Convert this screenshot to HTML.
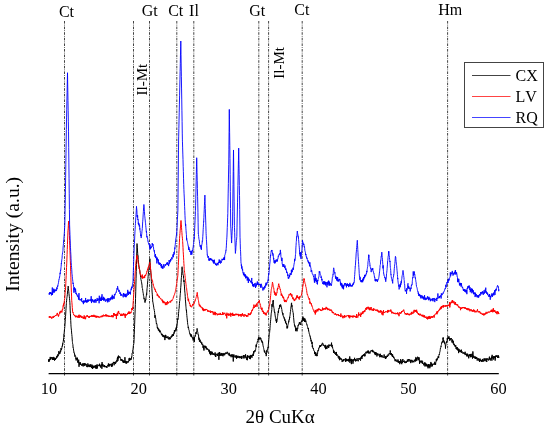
<!DOCTYPE html>
<html><head><meta charset="utf-8"><style>
html,body{margin:0;padding:0;background:#fff;}
svg{display:block;}
text{font-family:"Liberation Serif","Times New Roman",serif;fill:#000;}
.d{stroke:#444;stroke-width:1;stroke-dasharray:2.6 1.1 0.8 1.1;}
</style></head><body>
<svg width="550" height="426" viewBox="0 0 550 426">
<rect width="550" height="426" fill="#fff"/>
<line x1="64.5" y1="21" x2="64.5" y2="375.5" class="d"/>
<line x1="133.5" y1="21" x2="133.5" y2="375.5" class="d"/>
<line x1="149.5" y1="21" x2="149.5" y2="375.5" class="d"/>
<line x1="176.8" y1="21" x2="176.8" y2="375.5" class="d"/>
<line x1="193.8" y1="21" x2="193.8" y2="375.5" class="d"/>
<line x1="258.8" y1="21" x2="258.8" y2="375.5" class="d"/>
<line x1="268.6" y1="21" x2="268.6" y2="375.5" class="d"/>
<line x1="302.2" y1="21" x2="302.2" y2="375.5" class="d"/>
<line x1="447.6" y1="21" x2="447.6" y2="375.5" class="d"/>
<polyline points="48.60,360.06 48.78,361.83 48.96,359.00 49.14,361.51 49.32,359.33 49.50,359.41 49.68,360.19 49.86,359.16 50.04,359.29 50.22,356.92 50.40,359.49 50.58,358.94 50.76,358.45 50.94,359.33 51.00,358.77 51.12,358.40 51.30,357.43 51.48,358.10 51.66,357.48 51.84,357.58 52.02,358.43 52.20,357.36 52.38,357.63 52.56,359.96 52.74,359.34 52.92,357.76 53.00,357.47 53.10,357.09 53.28,356.96 53.46,359.99 53.64,358.26 53.82,357.40 54.00,358.85 54.18,359.44 54.36,359.28 54.54,360.63 54.72,357.68 54.90,359.76 55.00,359.57 55.08,358.19 55.26,359.63 55.44,359.88 55.62,358.91 55.80,358.01 55.98,358.94 56.16,357.94 56.34,357.65 56.52,357.89 56.70,356.27 56.88,357.61 57.00,357.03 57.06,357.22 57.24,355.70 57.42,356.76 57.60,355.23 57.78,354.38 57.96,356.27 58.14,356.01 58.32,355.87 58.50,354.56 58.68,353.93 58.86,351.11 59.00,354.02 59.04,354.16 59.22,354.17 59.40,352.69 59.58,352.19 59.76,352.62 59.94,352.66 60.12,353.47 60.30,350.51 60.48,351.02 60.66,351.72 60.84,350.23 61.00,350.06 61.02,348.12 61.20,349.78 61.38,350.11 61.56,349.06 61.74,348.76 61.92,347.53 62.10,346.27 62.28,346.64 62.46,345.03 62.50,345.69 62.64,343.55 62.82,344.38 63.00,342.25 63.18,341.75 63.36,340.72 63.40,341.01 63.54,338.98 63.72,337.48 63.90,333.89 64.08,333.75 64.26,332.17 64.44,329.74 64.62,328.78 64.80,326.73 64.90,326.03 64.98,324.82 65.16,321.90 65.34,319.68 65.52,316.57 65.70,314.06 65.88,310.83 66.06,308.24 66.24,305.13 66.40,303.63 66.42,302.48 66.60,300.81 66.78,298.57 66.96,297.42 67.14,296.38 67.32,294.60 67.50,292.05 67.68,290.81 67.86,289.19 68.04,287.73 68.20,286.07 68.22,286.33 68.40,288.52 68.58,290.08 68.76,291.50 68.94,293.35 69.12,295.04 69.30,296.30 69.48,298.36 69.66,300.32 69.84,302.12 69.90,302.92 70.02,305.49 70.20,310.02 70.38,313.19 70.56,316.95 70.74,320.68 70.92,324.27 71.00,326.14 71.10,327.13 71.28,328.95 71.46,330.19 71.64,332.98 71.82,334.63 72.00,336.43 72.18,338.99 72.36,341.36 72.50,342.59 72.54,343.20 72.72,344.07 72.90,344.70 73.08,347.89 73.26,347.67 73.44,348.70 73.62,350.77 73.80,350.70 73.98,352.96 74.00,352.76 74.16,352.85 74.34,352.90 74.52,354.60 74.70,354.10 74.88,356.63 75.06,355.35 75.24,355.88 75.42,356.04 75.60,356.18 75.78,356.80 75.96,358.82 76.00,357.70 76.14,360.46 76.32,358.69 76.50,358.27 76.68,359.08 76.86,358.95 77.04,359.22 77.22,359.72 77.40,357.67 77.58,360.34 77.76,362.62 77.94,360.47 78.00,361.11 78.12,361.01 78.30,360.79 78.48,362.81 78.66,359.67 78.84,361.88 79.02,366.78 79.20,362.37 79.38,363.98 79.56,363.62 79.74,364.45 79.92,364.38 80.00,364.40 80.10,365.00 80.28,362.16 80.46,364.44 80.64,364.37 80.82,364.64 81.00,363.74 81.18,364.26 81.36,365.02 81.54,364.75 81.72,365.68 81.90,365.16 82.00,364.94 82.08,365.42 82.26,365.06 82.44,364.37 82.62,365.32 82.80,364.07 82.98,363.13 83.16,366.43 83.34,364.42 83.52,364.87 83.70,364.20 83.88,364.22 84.00,363.38 84.06,363.22 84.24,364.37 84.42,364.29 84.60,363.44 84.78,366.05 84.96,363.58 85.14,364.51 85.32,363.70 85.50,365.14 85.68,364.43 85.86,363.92 86.00,364.79 86.04,364.14 86.22,364.23 86.40,365.05 86.58,364.97 86.76,366.96 86.94,366.99 87.12,365.94 87.30,365.71 87.48,366.36 87.66,367.16 87.84,363.40 88.02,364.80 88.20,365.73 88.38,364.79 88.56,366.36 88.74,365.87 88.92,365.96 89.00,366.39 89.10,365.27 89.28,367.03 89.46,366.83 89.64,366.81 89.82,364.56 90.00,366.59 90.18,367.10 90.36,365.87 90.54,366.58 90.72,364.31 90.90,365.42 91.08,366.22 91.26,366.75 91.44,366.88 91.62,368.09 91.80,366.67 91.98,364.63 92.00,367.27 92.16,365.46 92.34,365.73 92.52,369.02 92.70,367.54 92.88,366.65 93.06,365.93 93.24,366.73 93.42,366.70 93.60,368.10 93.78,366.89 93.96,365.60 94.00,367.12 94.14,367.37 94.32,366.09 94.50,366.06 94.68,367.20 94.86,365.99 95.04,367.56 95.22,367.56 95.40,365.26 95.58,368.09 95.76,367.99 95.94,368.65 96.00,366.48 96.12,367.55 96.30,366.29 96.48,364.71 96.66,365.37 96.84,368.81 97.02,366.90 97.20,368.25 97.38,366.07 97.56,366.73 97.74,364.50 97.92,365.09 98.10,365.38 98.28,365.73 98.46,365.63 98.64,365.41 98.82,365.24 99.00,365.41 99.00,366.07 99.18,365.26 99.36,366.22 99.54,363.73 99.72,365.22 99.90,365.62 100.08,365.85 100.26,365.18 100.44,365.64 100.62,367.55 100.80,366.22 100.98,366.15 101.16,364.49 101.34,364.36 101.52,365.48 101.70,365.16 101.88,368.78 102.06,362.09 102.24,365.83 102.42,364.40 102.60,366.31 102.78,364.21 102.96,364.45 103.14,364.56 103.32,365.46 103.50,366.02 103.68,366.62 103.86,365.41 104.04,365.49 104.22,366.87 104.40,366.66 104.58,365.14 104.76,367.04 104.94,367.29 105.00,366.29 105.12,366.86 105.30,365.96 105.48,366.14 105.66,366.71 105.84,366.75 106.02,366.77 106.20,366.82 106.38,366.11 106.56,367.32 106.74,366.23 106.92,367.89 107.10,366.49 107.28,366.01 107.46,365.44 107.64,366.09 107.82,365.77 108.00,366.04 108.18,365.77 108.36,363.67 108.54,366.25 108.72,363.60 108.90,366.03 109.00,364.93 109.08,366.59 109.26,365.39 109.44,364.21 109.62,364.99 109.80,365.01 109.98,365.28 110.16,364.79 110.34,365.27 110.52,364.25 110.70,364.60 110.88,364.88 111.06,364.66 111.24,363.64 111.42,366.79 111.60,365.06 111.78,365.42 111.96,364.21 112.00,364.98 112.14,364.98 112.32,366.46 112.50,363.25 112.68,363.69 112.86,363.36 113.04,363.54 113.22,362.72 113.40,361.90 113.58,362.94 113.76,363.02 113.94,362.46 114.12,365.27 114.30,362.32 114.48,362.00 114.66,363.05 114.84,362.20 115.02,361.81 115.20,361.82 115.38,363.84 115.56,364.06 115.74,362.42 115.92,361.71 116.10,362.54 116.10,361.87 116.28,361.50 116.46,361.40 116.64,360.69 116.82,360.19 117.00,361.88 117.18,358.75 117.36,359.12 117.54,356.79 117.70,357.62 117.72,357.22 117.90,360.86 118.08,358.08 118.26,358.51 118.44,355.59 118.62,357.60 118.80,357.13 118.98,356.99 119.16,357.48 119.34,356.70 119.52,357.06 119.70,356.54 119.70,357.15 119.88,357.51 120.06,357.10 120.24,357.88 120.42,358.55 120.60,359.00 120.78,360.04 120.96,360.02 121.00,360.00 121.14,360.97 121.32,359.40 121.50,358.96 121.68,360.11 121.86,359.48 122.04,360.63 122.22,360.76 122.40,359.81 122.58,361.41 122.76,361.20 122.94,361.04 123.12,362.67 123.30,362.30 123.30,360.92 123.48,360.56 123.66,362.75 123.84,360.55 124.02,361.95 124.20,361.04 124.38,361.14 124.56,361.45 124.74,362.85 124.92,357.20 125.10,360.46 125.28,361.77 125.46,361.16 125.64,360.92 125.82,363.34 126.00,360.93 126.18,361.91 126.36,363.61 126.54,362.20 126.72,362.03 126.90,362.12 127.00,362.12 127.08,361.20 127.26,361.91 127.44,362.40 127.62,362.81 127.80,362.89 127.98,362.89 128.00,361.52 128.16,361.30 128.34,361.23 128.52,362.16 128.70,360.77 128.88,360.28 129.06,358.31 129.24,360.10 129.42,360.88 129.60,357.89 129.78,359.15 129.96,359.46 130.14,359.63 130.32,359.14 130.50,360.15 130.68,358.34 130.86,358.82 131.04,359.07 131.22,359.62 131.40,358.94 131.58,356.77 131.60,357.60 131.76,356.90 131.94,355.53 132.12,352.98 132.30,352.90 132.48,352.75 132.50,351.81 132.66,351.05 132.84,349.73 133.02,349.22 133.20,347.48 133.38,345.56 133.56,345.09 133.74,343.80 133.92,343.10 134.00,341.85 134.10,339.35 134.28,334.23 134.46,329.56 134.64,324.30 134.82,319.07 135.00,314.07 135.18,309.04 135.36,304.36 135.50,299.95 135.54,298.54 135.72,291.80 135.90,284.97 136.08,278.26 136.26,271.44 136.44,264.64 136.62,257.99 136.80,251.04 136.98,244.38 137.00,243.57 137.16,245.16 137.34,247.74 137.52,250.97 137.70,253.38 137.88,256.19 138.06,255.80 138.24,259.40 138.42,261.98 138.60,264.01 138.60,263.51 138.78,264.65 138.96,265.91 139.14,266.89 139.32,268.38 139.50,269.18 139.68,269.97 139.86,270.79 140.04,273.73 140.22,274.50 140.40,274.90 140.58,277.20 140.76,277.71 140.94,279.41 141.00,279.87 141.12,280.03 141.30,281.10 141.48,281.76 141.66,282.91 141.84,284.01 142.02,285.26 142.20,287.84 142.38,288.33 142.56,288.72 142.74,290.57 142.92,291.70 143.10,292.77 143.28,293.41 143.30,293.98 143.46,295.62 143.64,295.61 143.82,296.71 144.00,298.75 144.18,298.17 144.36,299.84 144.54,300.42 144.72,301.86 144.90,302.18 145.00,302.63 145.08,302.33 145.26,302.15 145.44,301.35 145.62,299.53 145.80,300.04 145.98,297.54 146.16,296.70 146.34,295.86 146.52,293.63 146.70,294.74 146.80,291.86 146.88,291.11 147.06,288.62 147.24,287.38 147.42,284.72 147.60,283.00 147.78,280.40 147.96,278.53 148.14,276.51 148.32,274.28 148.50,271.47 148.68,270.86 148.70,270.81 148.86,268.37 149.04,266.48 149.22,265.08 149.40,262.73 149.58,261.89 149.76,259.89 149.90,258.78 149.94,259.90 150.12,262.48 150.30,265.41 150.48,268.19 150.66,270.26 150.84,272.91 151.00,275.03 151.02,275.04 151.20,278.31 151.38,281.44 151.56,283.66 151.74,284.70 151.92,288.82 152.10,292.10 152.28,294.13 152.46,296.93 152.64,299.79 152.70,300.99 152.82,302.17 153.00,302.24 153.18,303.89 153.36,304.91 153.54,305.95 153.72,307.21 153.90,308.75 154.08,308.95 154.26,310.48 154.44,310.72 154.62,312.67 154.80,314.23 154.98,317.92 155.00,315.21 155.16,315.53 155.34,316.91 155.52,317.56 155.70,317.82 155.88,319.58 156.06,320.98 156.24,322.26 156.42,324.13 156.60,323.18 156.78,323.87 156.96,324.33 157.14,326.07 157.32,327.67 157.40,327.03 157.50,328.64 157.68,328.46 157.86,327.71 158.04,328.85 158.22,329.54 158.40,330.45 158.58,328.59 158.76,330.30 158.94,330.35 159.12,329.56 159.30,329.91 159.48,332.22 159.66,330.52 159.84,330.69 160.02,331.75 160.20,330.74 160.38,331.93 160.56,332.04 160.74,332.61 160.92,333.03 161.00,333.07 161.10,333.01 161.28,334.36 161.46,334.25 161.64,335.23 161.82,333.89 162.00,334.66 162.18,334.35 162.36,334.18 162.54,335.07 162.72,336.65 162.90,335.85 163.08,334.98 163.26,335.01 163.44,336.27 163.62,336.30 163.80,337.03 163.98,335.36 164.16,337.30 164.34,336.42 164.52,336.26 164.70,336.54 164.88,340.09 165.00,337.57 165.06,335.61 165.24,336.67 165.42,337.51 165.60,334.95 165.78,335.01 165.96,335.15 166.14,338.10 166.32,336.79 166.50,336.81 166.68,337.96 166.86,337.01 167.04,337.90 167.22,337.22 167.40,337.13 167.58,337.35 167.76,336.81 167.94,336.25 168.12,338.88 168.30,338.94 168.48,337.97 168.66,338.55 168.84,339.30 169.00,337.39 169.02,338.98 169.20,339.19 169.38,337.28 169.56,337.64 169.74,339.11 169.92,338.99 170.10,337.77 170.28,339.24 170.46,338.95 170.64,337.78 170.82,337.63 171.00,336.60 171.18,337.41 171.36,336.11 171.54,337.09 171.72,336.96 171.90,336.63 172.08,334.74 172.26,336.20 172.44,336.27 172.62,334.58 172.80,335.46 172.90,335.61 172.98,334.31 173.16,335.65 173.34,336.01 173.52,334.03 173.70,334.19 173.88,332.53 174.06,332.82 174.24,333.45 174.42,330.18 174.60,332.13 174.78,330.65 174.96,331.44 175.14,330.74 175.32,330.77 175.50,329.71 175.68,329.52 175.86,330.57 176.04,327.69 176.22,327.96 176.30,329.43 176.40,329.04 176.58,326.43 176.76,327.56 176.94,324.62 177.12,324.71 177.30,323.72 177.48,320.17 177.66,318.60 177.84,319.43 178.02,319.63 178.20,317.96 178.20,317.73 178.38,316.06 178.56,313.33 178.74,311.37 178.92,309.09 179.10,308.50 179.28,305.82 179.46,303.44 179.64,301.21 179.82,300.58 180.00,297.44 180.18,295.17 180.30,294.18 180.36,293.52 180.54,290.88 180.72,287.36 180.90,285.94 181.08,282.59 181.26,278.97 181.44,277.31 181.62,275.15 181.80,271.80 181.98,267.26 182.10,266.72 182.16,267.37 182.34,269.33 182.52,269.92 182.70,270.27 182.88,273.52 183.06,275.01 183.24,275.18 183.42,275.43 183.60,278.36 183.78,279.50 183.96,281.91 184.00,280.36 184.14,282.65 184.32,284.89 184.50,286.92 184.68,290.14 184.86,292.16 185.04,293.76 185.22,296.60 185.40,299.84 185.58,301.96 185.76,303.96 185.94,306.81 186.00,307.24 186.12,308.70 186.30,310.39 186.48,309.93 186.66,313.61 186.84,315.57 187.02,317.27 187.20,318.88 187.38,320.98 187.56,322.33 187.74,324.53 187.92,325.26 188.10,325.84 188.20,328.09 188.28,327.71 188.46,327.07 188.64,328.21 188.82,329.76 189.00,329.87 189.18,330.50 189.36,331.84 189.54,332.82 189.72,333.46 189.90,333.01 190.08,334.16 190.26,335.16 190.44,334.22 190.62,334.97 190.80,336.35 190.80,336.14 190.98,335.68 191.16,336.44 191.34,334.38 191.52,337.02 191.70,335.71 191.88,337.11 192.06,337.30 192.24,337.81 192.42,337.29 192.60,338.41 192.78,339.02 192.96,338.58 193.14,340.46 193.32,340.20 193.40,338.99 193.50,337.39 193.68,339.40 193.86,338.04 194.04,338.02 194.22,338.08 194.40,341.88 194.58,336.95 194.76,336.92 194.94,336.83 195.12,336.67 195.30,335.43 195.30,336.22 195.48,335.26 195.66,334.68 195.84,332.83 196.02,332.14 196.20,333.92 196.38,332.03 196.56,331.33 196.74,331.20 196.92,330.72 197.10,328.40 197.10,329.00 197.28,329.74 197.46,330.67 197.64,331.84 197.82,332.39 198.00,334.37 198.18,334.59 198.36,335.08 198.54,334.68 198.70,337.68 198.72,337.24 198.90,339.77 199.08,337.93 199.26,338.66 199.44,341.66 199.62,339.72 199.80,341.27 199.98,340.88 200.16,339.76 200.34,340.49 200.52,341.17 200.70,342.58 200.88,341.65 201.06,342.26 201.24,342.65 201.42,342.72 201.60,344.03 201.78,342.36 201.80,343.95 201.96,344.78 202.14,344.42 202.32,344.46 202.50,344.45 202.68,343.90 202.86,344.97 203.04,347.83 203.22,345.54 203.40,345.62 203.58,348.47 203.76,346.79 203.94,350.51 204.12,347.66 204.30,346.34 204.48,345.77 204.66,346.50 204.84,346.15 205.02,347.26 205.20,345.78 205.38,346.78 205.56,347.83 205.74,347.12 205.80,347.96 205.92,346.19 206.10,347.08 206.28,349.41 206.46,348.12 206.64,347.81 206.82,348.22 207.00,348.97 207.18,349.25 207.36,349.57 207.54,348.59 207.72,348.63 207.90,349.64 208.08,349.72 208.26,350.04 208.44,349.58 208.62,350.12 208.80,351.19 208.98,350.71 209.16,351.75 209.34,349.76 209.52,353.38 209.70,351.30 209.70,352.21 209.88,353.53 210.06,351.74 210.24,351.80 210.42,355.14 210.60,353.82 210.78,352.68 210.96,351.16 211.14,353.01 211.32,352.40 211.50,352.32 211.68,354.55 211.86,353.36 212.04,353.17 212.22,351.81 212.40,353.23 212.58,354.52 212.76,353.30 212.94,353.49 213.12,354.09 213.30,353.49 213.48,354.18 213.66,354.83 213.84,353.90 214.02,354.42 214.20,354.65 214.38,354.40 214.56,354.16 214.74,353.70 214.92,355.01 215.00,355.45 215.10,352.43 215.28,355.84 215.46,356.76 215.64,354.79 215.82,356.81 216.00,355.04 216.18,354.65 216.36,354.48 216.54,354.39 216.72,354.73 216.90,353.74 217.08,354.74 217.26,354.33 217.44,354.68 217.62,355.97 217.80,353.77 217.98,354.20 218.16,353.95 218.34,352.71 218.52,354.70 218.70,354.78 218.88,359.75 219.06,354.84 219.24,354.56 219.42,355.96 219.60,352.01 219.78,354.30 219.96,355.16 220.00,353.94 220.14,354.37 220.32,355.51 220.50,354.24 220.68,353.96 220.86,355.64 221.04,352.95 221.22,355.26 221.40,353.82 221.58,353.33 221.76,353.99 221.94,354.00 222.12,355.94 222.30,354.36 222.48,353.74 222.66,353.89 222.84,353.36 223.02,356.27 223.20,353.49 223.38,354.80 223.56,353.91 223.74,355.01 223.92,353.37 224.10,353.44 224.28,353.34 224.46,354.28 224.64,355.29 224.82,354.26 225.00,353.33 225.18,354.19 225.36,353.82 225.54,353.37 225.72,352.58 225.90,352.77 226.08,353.76 226.26,352.57 226.44,353.35 226.60,353.66 226.62,353.65 226.80,353.64 226.98,353.05 227.16,352.63 227.34,351.80 227.52,352.09 227.70,353.42 227.88,354.18 228.06,354.05 228.24,353.58 228.42,354.04 228.60,354.42 228.78,355.27 228.96,354.91 229.14,352.82 229.32,354.78 229.50,354.14 229.68,355.88 229.86,356.11 230.04,355.14 230.22,355.57 230.40,355.47 230.58,355.94 230.76,354.83 230.94,354.73 231.00,355.59 231.12,357.21 231.30,354.64 231.48,355.42 231.66,355.33 231.84,355.06 232.02,355.80 232.20,354.25 232.38,355.10 232.56,355.26 232.74,357.17 232.92,355.79 233.10,355.89 233.28,361.49 233.46,354.93 233.64,355.69 233.82,354.41 234.00,354.75 234.18,356.06 234.36,356.52 234.54,355.99 234.72,355.95 234.90,356.50 235.08,357.69 235.26,357.35 235.44,356.68 235.62,355.83 235.80,356.57 235.98,355.41 236.16,357.37 236.34,355.72 236.52,358.77 236.70,355.95 236.88,355.88 237.06,356.08 237.24,356.38 237.40,356.28 237.42,356.01 237.60,357.67 237.78,358.09 237.96,355.73 238.14,356.53 238.32,356.53 238.50,357.49 238.68,357.01 238.86,356.57 239.04,357.42 239.22,357.02 239.40,356.26 239.58,357.65 239.76,356.98 239.94,358.25 240.12,357.49 240.30,356.40 240.48,357.93 240.66,357.55 240.84,357.48 241.02,357.38 241.20,357.84 241.38,355.95 241.56,357.49 241.74,358.99 241.92,356.66 242.10,356.30 242.28,357.12 242.46,357.22 242.64,356.88 242.82,357.01 243.00,357.28 243.18,357.55 243.36,355.11 243.54,356.61 243.72,357.01 243.80,356.88 243.90,358.49 244.08,356.99 244.26,356.68 244.44,356.59 244.62,355.71 244.80,355.17 244.98,357.07 245.16,358.19 245.34,357.37 245.52,354.31 245.70,354.84 245.88,356.86 246.06,356.97 246.24,357.08 246.42,357.96 246.60,358.12 246.78,359.92 246.96,356.64 247.14,356.90 247.32,360.23 247.50,357.27 247.68,355.16 247.86,358.04 248.04,356.89 248.22,355.94 248.40,356.33 248.58,356.69 248.76,356.84 248.94,356.38 249.12,357.00 249.30,356.50 249.48,358.83 249.66,357.53 249.84,355.76 250.02,355.57 250.20,357.80 250.30,356.75 250.38,359.17 250.56,356.82 250.74,356.14 250.92,354.92 251.10,357.25 251.28,355.33 251.46,356.77 251.64,356.53 251.82,356.73 252.00,357.69 252.18,355.39 252.36,355.66 252.54,355.97 252.72,354.58 252.90,353.79 253.08,353.78 253.26,355.88 253.44,354.87 253.50,353.33 253.62,351.32 253.80,353.46 253.98,352.47 254.16,351.74 254.34,351.17 254.52,351.35 254.70,350.65 254.88,351.91 255.06,350.12 255.24,350.69 255.42,350.44 255.60,349.83 255.70,348.85 255.78,348.26 255.96,347.39 256.14,344.67 256.32,347.06 256.50,344.32 256.68,344.35 256.86,343.77 257.04,343.23 257.22,342.11 257.40,341.53 257.40,341.85 257.58,341.27 257.76,341.02 257.94,341.29 258.12,338.93 258.30,340.00 258.48,337.73 258.66,338.60 258.84,337.24 259.02,339.78 259.20,338.33 259.38,338.33 259.56,338.55 259.74,337.95 259.80,337.59 259.92,337.73 260.10,338.44 260.28,339.29 260.46,337.71 260.64,339.00 260.82,338.19 261.00,339.79 261.18,339.70 261.36,341.11 261.54,340.64 261.72,340.31 261.90,342.32 262.08,341.69 262.20,341.28 262.26,341.93 262.44,342.93 262.62,342.24 262.80,343.98 262.98,345.19 263.16,346.06 263.34,347.01 263.52,347.59 263.70,348.40 263.88,349.39 264.06,350.01 264.24,351.36 264.42,352.17 264.60,350.55 264.60,352.28 264.78,351.22 264.96,352.15 265.14,352.25 265.32,353.07 265.50,353.07 265.68,353.80 265.86,353.10 266.04,352.96 266.22,356.12 266.40,353.12 266.50,353.43 266.58,352.42 266.76,350.39 266.94,352.49 267.12,350.90 267.30,349.54 267.48,349.79 267.66,348.67 267.84,347.49 268.02,348.23 268.20,346.98 268.20,346.45 268.38,344.36 268.56,342.06 268.74,340.02 268.92,338.70 269.10,336.61 269.28,334.23 269.46,333.45 269.64,332.36 269.80,329.80 269.82,330.06 270.00,327.93 270.18,325.54 270.36,323.39 270.54,321.21 270.72,319.33 270.90,317.15 271.08,314.89 271.26,313.32 271.30,313.04 271.44,312.11 271.62,311.14 271.80,309.40 271.98,304.11 272.16,306.68 272.34,305.54 272.52,304.56 272.70,303.13 272.88,302.13 273.00,300.91 273.06,301.39 273.24,300.05 273.42,304.18 273.60,305.85 273.78,307.11 273.96,308.47 274.14,308.65 274.32,311.98 274.50,311.79 274.60,312.69 274.68,312.00 274.86,312.79 275.04,315.01 275.22,315.98 275.40,317.27 275.58,318.01 275.76,318.84 275.94,319.21 276.12,321.16 276.30,319.13 276.48,322.96 276.50,322.51 276.66,321.35 276.84,321.75 277.02,320.82 277.20,319.02 277.38,317.26 277.56,316.58 277.74,315.35 277.92,313.67 278.10,312.96 278.28,311.13 278.46,312.75 278.64,309.72 278.82,308.90 278.90,308.26 279.00,308.75 279.18,308.28 279.36,308.37 279.54,304.93 279.72,306.55 279.90,306.91 280.08,306.56 280.26,306.84 280.44,304.58 280.62,305.29 280.80,304.96 280.80,304.84 280.98,305.82 281.16,307.26 281.34,306.91 281.52,307.46 281.70,309.30 281.88,309.52 282.06,311.27 282.24,312.43 282.42,312.23 282.50,313.17 282.60,314.05 282.78,314.54 282.96,313.19 283.14,315.92 283.32,316.25 283.50,315.98 283.68,316.71 283.86,317.59 284.04,318.30 284.22,317.55 284.40,318.88 284.58,318.70 284.76,320.69 284.90,320.14 284.94,319.45 285.12,319.91 285.30,320.64 285.48,322.80 285.66,321.02 285.84,322.41 286.02,323.16 286.20,323.95 286.38,322.94 286.56,324.96 286.74,325.43 286.92,325.87 287.10,328.52 287.28,326.39 287.30,327.61 287.46,326.40 287.64,327.56 287.82,325.51 288.00,324.73 288.18,323.68 288.36,323.41 288.54,323.43 288.72,320.84 288.90,321.51 289.08,319.76 289.26,319.28 289.44,319.78 289.62,317.19 289.70,317.96 289.80,316.16 289.98,315.69 290.16,314.29 290.34,312.11 290.52,311.61 290.70,309.31 290.88,308.16 291.06,306.33 291.24,305.51 291.40,303.51 291.42,303.64 291.60,302.84 291.78,306.71 291.96,305.24 292.14,307.39 292.32,308.72 292.50,309.21 292.68,310.45 292.80,310.72 292.86,312.03 293.04,312.38 293.22,312.86 293.40,315.14 293.58,317.45 293.76,319.03 293.94,321.00 294.12,323.09 294.30,323.39 294.48,325.49 294.50,325.02 294.66,325.37 294.84,325.07 295.02,327.24 295.20,326.43 295.38,327.28 295.56,327.42 295.74,331.17 295.92,327.66 296.10,328.54 296.28,329.36 296.46,328.49 296.64,330.15 296.82,329.86 296.90,329.46 297.00,331.31 297.18,328.94 297.36,328.46 297.54,328.44 297.72,328.99 297.90,326.30 298.08,325.35 298.26,326.10 298.44,325.37 298.62,324.45 298.80,324.16 298.98,324.72 299.16,323.49 299.30,322.53 299.34,323.52 299.52,323.79 299.70,323.35 299.88,322.01 300.06,323.31 300.24,323.59 300.42,324.66 300.60,323.89 300.78,324.28 300.90,324.89 300.96,322.97 301.14,322.24 301.32,321.32 301.50,321.73 301.68,321.87 301.86,320.42 302.04,321.65 302.22,321.21 302.40,320.64 302.58,317.75 302.76,319.99 302.80,319.86 302.94,316.60 303.12,320.49 303.30,321.04 303.48,318.25 303.66,319.87 303.84,317.89 304.02,319.58 304.20,319.54 304.38,319.39 304.56,321.95 304.74,319.21 304.80,318.41 304.92,320.52 305.10,319.46 305.28,320.32 305.46,320.70 305.64,321.84 305.82,320.62 306.00,321.97 306.18,322.60 306.36,323.28 306.40,323.38 306.54,323.31 306.72,323.98 306.90,325.04 307.08,324.84 307.26,326.05 307.44,326.42 307.50,327.03 307.62,327.45 307.80,328.28 307.98,328.58 308.16,328.89 308.34,327.90 308.52,330.90 308.70,330.97 308.70,330.52 308.88,332.01 309.06,332.49 309.24,333.80 309.42,333.84 309.60,334.60 309.78,335.73 309.96,336.22 310.14,335.82 310.32,337.24 310.50,338.93 310.50,337.67 310.68,339.14 310.86,338.87 311.04,341.40 311.22,340.17 311.40,341.31 311.58,341.37 311.70,342.60 311.76,343.34 311.94,343.98 312.12,341.88 312.30,347.07 312.48,345.48 312.66,346.82 312.84,348.28 313.02,348.30 313.20,348.55 313.20,348.45 313.38,348.10 313.56,349.18 313.74,350.44 313.92,350.44 314.10,350.79 314.28,351.22 314.46,351.13 314.64,353.95 314.82,351.95 315.00,352.04 315.18,353.40 315.20,352.50 315.36,355.66 315.54,354.09 315.72,353.36 315.90,352.61 316.08,355.18 316.26,353.72 316.44,354.12 316.62,355.83 316.80,356.19 316.90,356.06 316.98,355.07 317.16,355.86 317.34,354.20 317.52,354.25 317.70,352.02 317.88,350.60 318.06,351.14 318.24,349.98 318.30,350.32 318.42,350.50 318.60,350.44 318.78,347.88 318.96,348.22 319.14,347.99 319.32,347.25 319.50,347.59 319.68,345.82 319.86,346.37 320.04,345.29 320.22,346.25 320.30,346.70 320.40,345.30 320.58,346.94 320.76,345.30 320.94,345.83 321.12,345.92 321.30,345.01 321.48,344.95 321.66,344.52 321.84,345.42 322.02,344.32 322.20,343.39 322.38,342.83 322.40,343.03 322.56,343.44 322.74,343.10 322.92,343.40 323.10,345.19 323.28,344.79 323.46,344.78 323.64,345.74 323.82,345.26 324.00,345.33 324.18,346.07 324.36,346.14 324.40,346.03 324.54,345.77 324.72,346.30 324.90,345.76 325.08,347.78 325.26,344.88 325.44,347.76 325.62,349.21 325.80,347.22 325.98,346.56 326.16,348.06 326.34,347.45 326.50,348.31 326.52,347.36 326.70,346.89 326.88,348.98 327.06,345.76 327.24,345.39 327.42,347.32 327.60,347.12 327.78,346.07 327.96,346.01 328.14,346.36 328.32,346.01 328.50,345.92 328.50,346.09 328.68,348.02 328.86,344.65 329.04,345.77 329.22,344.81 329.40,345.15 329.58,345.02 329.76,346.21 329.94,345.57 330.12,345.13 330.30,345.45 330.48,345.33 330.66,345.45 330.84,344.81 331.02,345.13 331.20,345.31 331.38,344.00 331.56,342.64 331.60,345.37 331.74,345.20 331.92,346.85 332.10,344.85 332.28,346.77 332.46,347.97 332.64,347.45 332.82,348.64 333.00,348.97 333.18,349.39 333.36,349.78 333.54,352.73 333.60,350.47 333.72,350.24 333.90,352.74 334.08,351.11 334.26,352.66 334.44,352.81 334.62,353.28 334.80,353.69 334.98,352.79 335.16,352.05 335.34,353.93 335.52,354.23 335.70,354.08 335.70,354.69 335.88,353.42 336.06,354.60 336.24,354.72 336.42,351.95 336.60,355.64 336.78,354.78 336.96,355.14 337.14,354.46 337.32,355.24 337.50,355.42 337.68,355.78 337.70,355.72 337.86,355.47 338.04,355.66 338.22,357.57 338.40,356.09 338.58,356.42 338.76,356.05 338.94,356.36 339.12,359.00 339.30,356.56 339.48,360.18 339.66,357.33 339.84,358.68 340.02,357.73 340.20,358.66 340.38,358.94 340.56,358.21 340.74,358.33 340.80,359.15 340.92,358.74 341.10,359.88 341.28,358.63 341.46,359.57 341.64,359.56 341.82,359.39 342.00,359.40 342.18,362.04 342.36,360.38 342.54,360.03 342.72,360.25 342.90,361.05 343.08,360.58 343.26,359.15 343.44,359.47 343.62,361.25 343.80,360.18 343.90,359.78 343.98,359.16 344.16,359.01 344.34,359.29 344.52,359.61 344.70,360.04 344.88,359.72 345.06,360.28 345.24,359.87 345.42,360.00 345.60,361.85 345.78,358.16 345.96,360.34 346.14,360.63 346.32,359.35 346.50,361.18 346.68,359.09 346.86,360.93 347.04,359.48 347.22,360.10 347.40,359.94 347.58,360.23 347.76,360.32 347.90,359.65 347.94,360.74 348.12,359.93 348.30,361.21 348.48,358.89 348.66,359.60 348.84,361.49 349.02,359.79 349.20,359.59 349.38,359.48 349.56,360.91 349.74,356.44 349.92,362.79 350.10,359.71 350.28,360.59 350.46,359.88 350.64,360.81 350.82,358.77 351.00,360.02 351.18,360.81 351.36,364.13 351.54,360.41 351.72,359.04 351.90,361.13 352.00,360.62 352.08,359.65 352.26,359.94 352.44,360.64 352.62,359.78 352.80,361.99 352.98,363.69 353.16,361.11 353.34,361.46 353.52,360.14 353.70,359.18 353.88,360.79 354.06,360.87 354.24,360.53 354.42,359.34 354.60,357.81 354.78,360.08 354.96,359.03 355.14,359.55 355.32,359.94 355.50,359.43 355.68,361.47 355.86,359.59 356.04,360.09 356.10,360.70 356.22,360.42 356.40,359.99 356.58,360.72 356.76,359.48 356.94,358.97 357.12,358.18 357.30,360.40 357.48,360.31 357.66,360.28 357.84,360.20 358.02,359.94 358.20,361.30 358.38,359.45 358.56,358.34 358.74,358.81 358.92,359.13 359.00,359.25 359.10,358.82 359.28,358.81 359.46,358.39 359.64,359.14 359.82,359.54 360.00,358.33 360.18,359.22 360.36,357.78 360.54,360.62 360.72,358.07 360.90,358.54 361.08,358.33 361.10,357.39 361.26,358.21 361.44,356.17 361.62,357.69 361.80,357.51 361.98,358.91 362.16,356.25 362.34,355.07 362.52,356.72 362.70,355.89 362.88,356.03 363.06,355.23 363.24,355.96 363.42,354.42 363.60,355.24 363.78,355.54 363.96,355.91 364.14,354.31 364.20,354.55 364.32,356.32 364.50,353.54 364.68,355.23 364.86,354.81 365.04,356.22 365.22,354.06 365.40,353.85 365.58,353.80 365.76,353.33 365.94,351.81 366.12,353.33 366.30,352.84 366.48,352.83 366.66,352.96 366.84,352.26 367.02,351.47 367.20,352.92 367.30,352.85 367.38,351.37 367.56,352.14 367.74,351.73 367.92,352.37 368.10,350.37 368.28,353.46 368.46,353.09 368.64,351.26 368.82,352.59 369.00,352.08 369.18,351.75 369.36,353.38 369.54,353.04 369.72,352.65 369.90,352.69 370.08,353.39 370.26,351.99 370.30,351.70 370.44,351.42 370.62,351.69 370.80,350.76 370.98,350.99 371.16,351.25 371.34,350.38 371.52,350.92 371.70,351.16 371.88,350.54 372.06,350.15 372.24,349.93 372.40,349.86 372.42,350.64 372.60,352.12 372.78,350.10 372.96,351.27 373.14,351.36 373.32,352.21 373.50,352.11 373.68,351.40 373.86,351.37 374.04,352.31 374.22,352.12 374.40,353.16 374.58,351.96 374.76,353.71 374.94,354.22 375.12,352.02 375.30,355.08 375.40,353.90 375.48,352.23 375.66,354.23 375.84,352.03 376.02,354.21 376.20,352.94 376.38,354.44 376.56,352.96 376.74,353.08 376.92,356.45 377.10,355.10 377.28,354.73 377.46,355.12 377.64,353.85 377.82,353.25 378.00,354.13 378.18,355.09 378.36,355.13 378.54,355.10 378.72,354.58 378.90,354.86 379.08,355.43 379.26,355.14 379.44,354.47 379.50,355.44 379.62,356.77 379.80,357.28 379.98,353.91 380.16,354.32 380.34,353.83 380.52,355.54 380.70,356.82 380.88,355.69 381.06,355.45 381.24,356.93 381.42,355.35 381.60,356.07 381.78,357.22 381.96,357.26 382.14,355.36 382.32,356.13 382.50,356.42 382.68,357.33 382.86,357.21 383.04,357.08 383.22,356.83 383.40,356.78 383.58,357.50 383.60,357.07 383.76,357.27 383.94,357.11 384.12,354.47 384.30,356.41 384.48,356.51 384.66,357.42 384.84,358.17 385.02,357.27 385.20,356.35 385.38,356.36 385.56,358.95 385.74,357.18 385.92,356.40 386.10,357.58 386.28,358.24 386.46,356.42 386.64,356.05 386.82,355.79 387.00,355.63 387.18,356.82 387.36,356.15 387.54,357.00 387.70,355.76 387.72,354.73 387.90,355.38 388.08,355.21 388.26,354.78 388.44,354.70 388.62,355.51 388.80,354.28 388.98,353.52 389.16,353.67 389.34,353.08 389.52,353.40 389.70,353.06 389.88,352.99 390.06,354.38 390.20,352.39 390.24,350.43 390.42,352.55 390.60,352.85 390.78,353.75 390.96,354.80 391.14,353.01 391.32,355.01 391.50,353.64 391.68,354.80 391.80,354.39 391.86,355.66 392.04,354.89 392.22,354.64 392.40,356.99 392.58,354.38 392.76,355.64 392.94,356.10 393.12,355.97 393.30,356.47 393.48,357.85 393.66,356.67 393.84,357.70 394.02,357.38 394.20,358.57 394.38,358.26 394.56,358.77 394.74,359.53 394.90,359.53 394.92,360.48 395.10,359.61 395.28,361.25 395.46,361.00 395.64,359.76 395.82,360.93 396.00,359.55 396.18,360.33 396.36,360.86 396.54,361.60 396.72,361.42 396.90,361.31 397.08,360.51 397.26,360.86 397.44,361.58 397.62,361.26 397.80,360.96 397.90,361.13 397.98,359.43 398.16,362.63 398.34,361.07 398.52,362.42 398.70,360.86 398.88,361.62 399.06,361.05 399.24,362.78 399.42,361.29 399.60,362.10 399.78,364.19 399.96,362.76 400.14,362.54 400.32,362.35 400.50,362.74 400.68,359.14 400.86,361.95 401.00,362.67 401.04,361.24 401.22,362.45 401.40,362.80 401.58,363.81 401.76,364.20 401.94,360.33 402.12,362.56 402.30,362.90 402.48,362.98 402.66,361.40 402.84,358.99 403.02,361.59 403.20,361.66 403.38,361.22 403.56,361.25 403.74,362.04 403.92,361.02 404.10,360.83 404.10,361.52 404.28,361.44 404.46,360.76 404.64,361.45 404.82,363.02 405.00,362.25 405.18,361.98 405.36,363.12 405.54,362.88 405.72,361.55 405.90,361.81 406.08,361.10 406.26,361.42 406.44,362.78 406.62,361.38 406.80,361.24 406.98,361.61 407.16,361.13 407.34,359.76 407.52,360.74 407.70,359.82 407.88,362.03 408.06,361.10 408.20,360.63 408.24,359.04 408.42,359.39 408.60,359.99 408.78,360.50 408.96,359.34 409.14,360.30 409.32,359.79 409.50,359.45 409.68,359.61 409.86,359.72 410.04,361.69 410.22,360.18 410.40,359.93 410.58,361.93 410.76,363.11 410.94,361.72 411.12,359.84 411.30,360.34 411.48,360.48 411.66,360.23 411.84,361.50 412.02,359.92 412.20,362.32 412.38,361.54 412.56,361.00 412.70,361.64 412.74,361.91 412.92,362.29 413.10,361.71 413.28,360.90 413.46,361.98 413.64,361.23 413.82,361.24 414.00,362.23 414.18,361.17 414.36,359.72 414.54,360.97 414.72,360.03 414.90,360.93 415.08,360.21 415.26,359.98 415.44,358.78 415.60,358.66 415.62,361.54 415.80,357.16 415.98,357.25 416.16,358.55 416.34,359.89 416.52,358.18 416.70,360.86 416.88,357.98 417.06,358.03 417.24,357.80 417.42,358.44 417.50,357.76 417.60,356.72 417.78,357.70 417.96,357.71 418.14,360.16 418.32,358.54 418.50,358.60 418.68,357.35 418.86,359.96 419.04,357.44 419.22,360.50 419.40,360.23 419.40,361.12 419.58,363.83 419.76,360.77 419.94,361.26 420.12,361.45 420.30,360.71 420.48,362.10 420.66,362.16 420.84,362.54 421.02,361.58 421.20,360.92 421.38,362.30 421.56,361.56 421.74,362.33 421.92,360.47 422.10,362.90 422.28,362.97 422.30,363.67 422.46,363.08 422.64,361.42 422.82,363.25 423.00,363.71 423.18,363.19 423.36,363.73 423.54,364.38 423.72,363.86 423.90,365.36 424.08,364.61 424.26,364.21 424.44,362.86 424.62,364.31 424.80,362.44 424.98,366.46 425.16,362.80 425.34,363.98 425.52,363.93 425.70,365.74 425.88,366.14 426.06,365.36 426.20,365.26 426.24,364.41 426.42,366.18 426.60,363.74 426.78,364.65 426.96,366.01 427.14,365.49 427.32,366.72 427.50,366.13 427.68,364.58 427.86,365.21 428.04,368.33 428.22,365.80 428.40,366.12 428.58,364.03 428.76,367.28 428.94,365.44 429.12,364.40 429.30,365.32 429.48,366.56 429.66,365.15 429.84,368.26 430.00,365.37 430.02,364.60 430.20,366.62 430.38,364.98 430.56,363.79 430.74,362.98 430.92,361.96 431.10,364.18 431.28,364.76 431.46,363.21 431.64,363.61 431.82,366.60 432.00,365.14 432.18,364.11 432.36,366.15 432.54,364.45 432.72,363.90 432.90,364.10 433.08,363.83 433.26,364.65 433.44,363.90 433.62,364.14 433.80,364.02 433.80,363.94 433.98,363.75 434.16,363.69 434.34,363.45 434.52,362.75 434.70,364.46 434.88,361.73 435.00,364.93 435.06,364.66 435.24,364.41 435.42,363.62 435.60,364.59 435.78,362.50 435.96,362.27 436.14,361.57 436.32,359.00 436.50,361.10 436.68,360.87 436.86,360.45 437.04,358.37 437.20,359.84 437.22,359.28 437.40,359.10 437.58,358.18 437.76,358.09 437.94,357.44 438.12,356.38 438.30,357.74 438.48,356.53 438.66,358.13 438.84,355.60 439.02,355.10 439.20,354.21 439.30,354.80 439.38,353.81 439.56,353.64 439.74,352.13 439.92,351.71 440.10,350.77 440.28,349.64 440.46,347.97 440.64,347.70 440.82,347.28 441.00,346.51 441.00,346.92 441.18,345.41 441.36,344.78 441.54,344.30 441.72,342.48 441.90,342.65 442.00,342.88 442.08,342.76 442.26,341.49 442.44,342.30 442.62,340.69 442.80,340.28 442.98,338.37 443.10,339.06 443.16,337.37 443.34,339.85 443.52,339.95 443.70,341.73 443.88,340.64 444.06,340.87 444.20,342.79 444.24,341.82 444.42,343.13 444.60,343.50 444.78,342.24 444.96,344.24 445.14,344.49 445.32,345.11 445.50,348.58 445.50,346.84 445.68,346.10 445.86,344.76 446.04,343.63 446.22,343.29 446.40,343.11 446.58,341.97 446.70,341.17 446.76,341.55 446.94,340.93 447.12,340.62 447.30,337.98 447.48,340.14 447.66,338.60 447.84,337.86 448.00,337.45 448.02,338.38 448.20,337.11 448.38,337.33 448.56,338.88 448.74,337.81 448.92,336.25 449.10,337.06 449.28,338.74 449.46,338.02 449.60,338.45 449.64,338.07 449.82,340.77 450.00,338.46 450.18,339.75 450.36,339.22 450.54,339.28 450.72,339.28 450.90,338.25 451.08,339.44 451.20,338.60 451.26,338.04 451.44,338.62 451.62,339.42 451.80,339.69 451.98,342.46 452.16,340.61 452.34,340.97 452.52,339.58 452.70,340.13 452.80,341.78 452.88,341.65 453.06,343.35 453.24,340.87 453.42,343.14 453.60,343.30 453.78,343.00 453.96,345.04 454.14,344.02 454.32,345.31 454.40,344.80 454.50,345.02 454.68,345.77 454.86,346.39 455.04,345.55 455.22,345.45 455.40,346.61 455.58,346.85 455.76,345.26 455.94,347.33 456.12,348.96 456.30,347.25 456.48,348.21 456.60,348.74 456.66,348.10 456.84,349.19 457.02,349.77 457.20,347.06 457.38,348.52 457.56,348.54 457.74,350.44 457.92,349.50 458.10,348.46 458.28,349.37 458.46,349.28 458.64,353.12 458.80,350.29 458.82,350.77 459.00,348.93 459.18,350.04 459.36,350.35 459.54,350.24 459.72,351.72 459.90,350.76 460.08,351.50 460.26,351.20 460.44,351.06 460.50,351.05 460.62,352.20 460.80,351.31 460.98,349.96 461.16,351.39 461.34,349.65 461.52,351.22 461.70,352.85 461.88,351.48 462.06,351.57 462.24,351.65 462.42,352.32 462.60,352.35 462.78,352.37 462.96,353.64 463.14,352.86 463.20,352.91 463.32,352.99 463.50,353.05 463.68,352.71 463.86,352.18 464.04,353.91 464.22,353.72 464.40,353.11 464.58,354.12 464.76,354.54 464.94,354.36 465.12,351.74 465.30,353.93 465.48,354.57 465.66,354.15 465.84,354.31 466.02,355.11 466.20,353.71 466.38,353.94 466.56,355.42 466.74,356.34 466.92,354.33 467.10,353.66 467.28,356.14 467.40,355.39 467.46,355.00 467.64,353.84 467.82,355.77 468.00,354.85 468.18,357.02 468.36,357.03 468.54,356.20 468.72,358.33 468.90,355.32 469.08,354.58 469.26,355.95 469.44,355.15 469.62,356.02 469.80,354.15 469.98,355.31 470.16,355.82 470.34,357.10 470.52,354.17 470.70,355.41 470.88,357.22 471.06,353.92 471.24,355.52 471.42,356.23 471.50,356.33 471.60,356.74 471.78,355.67 471.96,355.53 472.14,353.75 472.32,356.07 472.50,358.60 472.68,357.56 472.86,351.43 473.04,354.34 473.22,354.92 473.40,357.57 473.58,356.45 473.76,356.29 473.94,357.33 474.12,356.59 474.30,356.76 474.48,357.47 474.66,358.31 474.84,356.42 475.02,356.59 475.20,356.61 475.38,358.99 475.56,357.57 475.60,358.07 475.74,356.80 475.92,358.65 476.10,357.41 476.28,358.09 476.46,357.29 476.64,358.08 476.82,358.74 477.00,357.60 477.18,360.56 477.36,359.57 477.54,359.20 477.72,359.58 477.90,358.79 478.08,358.16 478.26,359.26 478.44,358.75 478.62,359.59 478.80,360.60 478.98,359.34 479.16,358.82 479.34,361.04 479.52,361.88 479.70,360.25 479.70,359.48 479.88,361.43 480.06,358.62 480.24,359.98 480.42,360.98 480.60,360.78 480.78,360.93 480.96,360.30 481.14,360.68 481.32,359.92 481.50,361.29 481.68,361.02 481.86,362.01 482.04,360.92 482.22,360.84 482.40,359.68 482.58,360.57 482.76,358.94 482.94,361.76 483.12,361.07 483.30,360.42 483.48,361.13 483.66,361.27 483.80,360.49 483.84,360.48 484.02,359.08 484.20,358.23 484.38,360.56 484.56,359.22 484.74,359.61 484.92,359.68 485.10,361.27 485.28,360.18 485.46,359.65 485.64,360.25 485.82,358.96 486.00,358.07 486.18,358.82 486.36,359.44 486.54,358.89 486.72,362.03 486.90,359.28 487.08,359.32 487.26,359.74 487.44,359.24 487.62,358.42 487.80,358.63 487.98,359.27 488.00,359.24 488.16,358.80 488.34,359.22 488.52,360.23 488.70,360.54 488.88,359.09 489.06,358.91 489.24,357.63 489.42,356.64 489.60,359.39 489.78,358.86 489.96,359.43 490.14,358.33 490.32,359.52 490.50,359.34 490.68,360.51 490.86,359.79 491.04,357.80 491.22,358.80 491.40,358.38 491.58,356.58 491.76,358.48 491.94,360.62 492.10,357.78 492.12,354.83 492.30,357.40 492.48,357.80 492.66,357.38 492.84,358.11 493.02,357.22 493.20,358.62 493.38,356.59 493.56,356.67 493.74,359.58 493.92,356.13 494.10,358.00 494.28,356.15 494.46,356.55 494.64,357.55 494.82,357.97 495.00,357.27 495.18,360.59 495.36,359.50 495.54,355.80 495.72,356.52 495.90,356.32 496.08,355.46 496.20,355.62 496.26,357.02 496.44,356.49 496.62,356.70 496.80,355.64 496.98,356.25 497.16,355.42 497.34,356.80 497.52,357.76 497.70,356.37 497.88,356.47 498.06,356.97 498.24,357.69 498.42,355.37 498.60,357.25 498.78,357.95 498.80,356.45" fill="none" stroke="#000" stroke-width="1" stroke-linejoin="round"/>
<polyline points="48.90,316.68 49.08,316.77 49.26,317.63 49.44,316.26 49.62,317.31 49.80,317.59 49.98,316.78 50.16,316.18 50.34,317.06 50.52,317.61 50.70,317.49 50.88,316.80 51.06,317.34 51.24,317.62 51.42,317.31 51.60,317.50 51.78,318.74 51.96,317.46 52.14,317.05 52.32,316.59 52.50,316.87 52.68,317.04 52.86,317.78 53.04,317.35 53.22,316.64 53.40,317.81 53.58,316.73 53.76,316.95 53.90,316.46 53.94,315.87 54.12,316.01 54.30,317.06 54.48,316.38 54.66,316.64 54.84,316.07 55.02,315.64 55.20,315.61 55.38,315.53 55.56,315.92 55.74,315.08 55.92,315.79 56.10,315.01 56.28,315.27 56.46,314.62 56.64,314.72 56.82,314.15 57.00,314.26 57.18,313.70 57.20,314.01 57.36,312.91 57.54,314.59 57.72,314.39 57.90,315.43 58.08,315.32 58.26,314.77 58.44,316.56 58.62,315.32 58.80,315.75 58.80,315.16 58.98,314.54 59.16,314.15 59.34,313.82 59.52,314.05 59.70,312.91 59.88,311.72 60.06,313.25 60.24,311.62 60.42,311.92 60.60,311.56 60.78,311.28 60.80,310.82 60.96,312.19 61.14,311.47 61.32,311.19 61.50,311.26 61.68,311.14 61.86,312.48 62.04,310.68 62.10,311.09 62.22,310.63 62.40,308.89 62.58,308.99 62.76,309.34 62.94,308.21 63.12,305.72 63.30,306.30 63.48,304.26 63.66,305.65 63.70,304.84 63.84,303.45 64.02,304.25 64.20,301.94 64.38,300.67 64.56,298.89 64.74,298.50 64.80,298.03 64.92,296.82 65.10,293.56 65.28,292.35 65.46,290.37 65.50,290.03 65.64,287.02 65.82,283.28 66.00,279.26 66.18,275.84 66.20,275.17 66.36,271.19 66.54,267.54 66.72,263.85 66.80,262.07 66.90,259.02 67.08,254.29 67.26,249.53 67.44,244.73 67.62,240.02 67.80,235.07 67.90,232.10 67.98,230.42 68.16,228.85 68.34,225.36 68.52,222.07 68.60,221.05 68.70,222.88 68.88,225.61 69.06,228.47 69.24,231.53 69.30,232.13 69.42,235.45 69.60,240.48 69.78,245.20 69.96,250.64 70.14,255.06 70.32,260.37 70.40,261.91 70.50,265.56 70.68,271.27 70.86,277.24 71.04,282.91 71.10,285.01 71.22,287.91 71.40,292.22 71.58,296.10 71.70,300.11 71.76,300.85 71.94,302.77 72.12,305.09 72.30,307.52 72.48,310.09 72.50,309.91 72.66,311.91 72.84,312.47 73.02,312.02 73.20,313.19 73.38,313.65 73.56,314.69 73.60,314.19 73.74,314.83 73.92,315.06 74.10,315.23 74.28,315.40 74.46,316.03 74.64,315.00 74.82,314.89 75.00,315.40 75.18,315.69 75.36,316.99 75.54,316.04 75.72,316.18 75.90,317.42 76.08,315.78 76.26,315.84 76.44,316.15 76.62,316.08 76.80,316.64 76.90,317.01 76.98,315.86 77.16,316.55 77.34,316.76 77.52,316.55 77.70,317.51 77.88,316.91 78.06,317.31 78.24,315.76 78.42,316.05 78.60,315.50 78.78,317.15 78.96,317.93 79.14,314.69 79.32,317.08 79.50,316.97 79.68,317.51 79.86,316.31 80.04,316.95 80.22,316.30 80.40,315.70 80.58,317.10 80.76,315.45 80.94,317.06 81.12,316.53 81.30,316.89 81.48,317.77 81.66,316.60 81.84,316.99 82.02,316.88 82.20,316.61 82.38,317.18 82.56,316.72 82.74,317.76 82.92,317.42 83.10,317.01 83.28,318.88 83.46,317.18 83.64,317.60 83.82,317.72 84.00,317.05 84.18,315.41 84.36,318.22 84.54,318.67 84.72,316.78 84.90,316.73 85.00,317.07 85.08,317.39 85.26,319.23 85.44,318.54 85.62,319.05 85.80,316.63 85.98,317.09 86.16,316.81 86.34,316.42 86.52,315.70 86.70,316.14 86.88,316.51 87.06,315.73 87.24,316.00 87.42,315.31 87.60,316.72 87.78,316.55 87.96,316.19 88.14,316.60 88.32,316.49 88.50,316.82 88.68,317.67 88.86,316.46 89.04,316.82 89.22,316.21 89.40,317.75 89.58,316.76 89.76,315.97 89.94,316.20 90.12,315.90 90.30,315.92 90.48,316.15 90.66,316.95 90.84,316.30 91.02,315.99 91.20,316.16 91.38,315.89 91.56,316.57 91.74,315.11 91.92,315.98 92.10,316.04 92.28,315.77 92.46,316.66 92.64,315.84 92.82,316.14 93.00,315.25 93.18,316.82 93.36,316.28 93.54,316.65 93.72,316.00 93.90,314.81 94.08,316.21 94.26,316.87 94.44,316.99 94.62,316.21 94.80,317.03 94.98,315.20 95.16,316.47 95.34,316.08 95.52,316.37 95.70,316.04 95.88,317.30 96.06,316.24 96.24,317.72 96.42,315.80 96.60,316.60 96.78,316.65 96.96,317.03 97.00,316.67 97.14,316.85 97.32,315.90 97.50,316.71 97.68,317.32 97.86,316.25 98.04,317.06 98.22,316.69 98.40,316.51 98.58,316.36 98.76,317.61 98.94,317.28 99.12,316.86 99.30,316.82 99.48,317.15 99.66,316.91 99.84,317.67 100.02,317.59 100.20,316.53 100.38,316.65 100.56,316.40 100.74,316.00 100.92,316.14 101.10,316.42 101.28,316.14 101.46,316.22 101.64,316.01 101.82,317.26 102.00,316.44 102.18,315.29 102.36,316.50 102.54,316.91 102.72,316.51 102.90,315.76 103.08,315.76 103.26,315.50 103.44,314.70 103.62,315.75 103.80,316.33 103.98,316.07 104.16,315.80 104.34,316.14 104.52,315.67 104.70,315.01 104.88,315.88 105.06,315.25 105.24,316.22 105.42,315.21 105.60,314.57 105.78,315.80 105.96,314.72 106.14,316.33 106.32,315.58 106.50,316.21 106.68,314.67 106.86,315.98 107.04,316.24 107.22,315.34 107.40,316.25 107.58,315.49 107.76,315.90 107.94,316.04 108.12,316.39 108.30,315.55 108.48,315.74 108.66,316.72 108.84,316.65 109.00,315.73 109.02,316.03 109.20,316.61 109.38,316.27 109.56,316.00 109.74,316.96 109.92,315.78 110.10,316.74 110.28,316.38 110.46,316.38 110.64,316.41 110.82,316.52 111.00,316.91 111.18,317.10 111.36,315.75 111.54,315.42 111.72,316.80 111.90,315.45 112.08,315.44 112.26,316.28 112.44,317.14 112.62,316.22 112.80,315.52 112.98,315.25 113.16,317.27 113.34,315.59 113.52,315.34 113.70,313.06 113.88,314.53 114.06,313.07 114.24,315.78 114.42,314.41 114.60,314.18 114.78,314.78 114.96,314.18 115.14,314.69 115.32,315.87 115.50,315.35 115.68,314.30 115.86,315.63 116.00,314.90 116.04,314.78 116.22,314.38 116.40,319.06 116.58,314.02 116.76,314.39 116.94,314.07 117.12,313.98 117.30,312.79 117.48,313.41 117.66,315.71 117.84,313.05 118.02,312.37 118.20,311.53 118.38,312.27 118.50,312.63 118.56,310.93 118.74,311.48 118.92,313.00 119.10,313.76 119.28,313.15 119.46,313.55 119.64,313.35 119.82,313.64 120.00,314.16 120.18,314.01 120.36,314.60 120.54,314.30 120.72,316.02 120.90,315.45 121.00,314.86 121.08,314.88 121.26,315.95 121.44,315.19 121.62,314.98 121.80,313.70 121.98,315.46 122.16,315.24 122.34,315.70 122.52,314.47 122.70,315.38 122.88,315.52 123.06,315.46 123.24,315.30 123.30,315.30 123.42,313.72 123.60,315.10 123.78,313.34 123.96,313.98 124.14,314.82 124.32,314.23 124.50,314.95 124.68,315.66 124.86,314.52 125.04,315.55 125.22,317.86 125.40,313.81 125.58,315.03 125.76,315.39 125.94,315.39 126.12,314.66 126.30,315.40 126.48,314.65 126.66,314.20 126.84,314.59 127.02,314.60 127.20,314.95 127.38,314.44 127.56,313.14 127.74,314.02 127.92,313.59 128.10,313.89 128.28,312.25 128.46,313.59 128.64,313.73 128.82,311.86 129.00,311.29 129.18,313.79 129.36,313.76 129.54,312.36 129.72,313.81 129.90,312.67 130.08,312.79 130.26,312.69 130.44,312.46 130.50,313.14 130.62,312.65 130.80,313.15 130.98,312.04 131.16,312.39 131.34,311.16 131.52,310.77 131.70,310.51 131.88,308.03 132.06,310.01 132.24,308.68 132.42,309.88 132.60,307.41 132.78,308.35 132.80,308.32 132.96,305.77 133.14,302.64 133.32,300.58 133.50,297.54 133.68,294.82 133.86,292.37 133.90,291.97 134.04,289.19 134.22,286.90 134.40,284.38 134.58,281.47 134.76,279.38 134.94,276.29 135.12,273.09 135.30,270.61 135.48,267.91 135.66,265.51 135.80,263.64 135.84,262.61 136.02,261.46 136.20,260.32 136.38,259.39 136.56,258.02 136.74,256.77 136.92,255.15 137.00,255.33 137.10,255.62 137.28,257.26 137.46,257.03 137.64,259.17 137.82,260.31 138.00,262.05 138.18,263.04 138.36,264.11 138.54,264.93 138.60,265.97 138.72,266.92 138.90,267.38 139.08,268.95 139.26,268.70 139.44,269.20 139.62,269.83 139.80,271.30 139.98,272.11 140.16,272.61 140.34,273.55 140.52,273.94 140.70,275.18 140.88,275.56 141.00,275.39 141.06,276.16 141.24,276.47 141.42,275.99 141.60,277.62 141.78,277.24 141.96,276.33 142.14,276.67 142.32,274.60 142.50,278.49 142.68,277.09 142.86,278.30 143.04,277.91 143.22,276.96 143.30,277.61 143.40,277.58 143.58,278.04 143.76,277.32 143.94,276.62 144.12,278.12 144.30,276.83 144.48,275.64 144.66,277.89 144.84,276.44 145.02,276.01 145.20,275.29 145.38,275.98 145.56,274.74 145.60,275.68 145.74,275.41 145.92,274.82 146.10,274.41 146.28,274.13 146.46,273.01 146.64,272.89 146.82,271.32 147.00,271.66 147.18,271.19 147.36,269.98 147.54,269.16 147.72,269.97 147.90,269.34 148.00,267.92 148.08,268.24 148.26,267.18 148.44,266.67 148.62,267.34 148.80,266.11 148.98,265.71 149.16,264.56 149.34,264.57 149.52,263.81 149.70,262.91 149.88,262.43 149.90,262.28 150.06,263.86 150.24,265.16 150.42,267.08 150.60,269.17 150.78,270.62 150.96,272.26 151.14,273.44 151.32,275.93 151.50,277.44 151.50,277.73 151.68,278.83 151.86,279.52 152.04,279.48 152.22,280.50 152.40,280.26 152.58,280.68 152.76,282.71 152.94,283.28 153.12,284.74 153.30,284.33 153.48,285.23 153.66,286.29 153.84,286.75 153.90,287.13 154.02,287.05 154.20,288.11 154.38,288.52 154.56,289.06 154.74,288.60 154.92,289.85 155.10,289.24 155.28,289.95 155.46,291.73 155.64,290.84 155.82,291.19 156.00,291.34 156.18,291.88 156.36,292.24 156.54,292.83 156.72,293.06 156.90,293.15 157.08,293.30 157.26,295.77 157.40,294.16 157.44,294.02 157.62,294.58 157.80,295.20 157.98,294.94 158.16,296.26 158.34,295.82 158.52,296.24 158.70,296.44 158.88,295.97 159.06,297.71 159.24,297.59 159.42,296.70 159.60,297.61 159.78,297.80 159.96,297.75 160.14,298.11 160.32,298.20 160.50,298.92 160.68,298.95 160.86,298.48 161.00,298.88 161.04,298.95 161.22,299.85 161.40,299.92 161.58,299.92 161.76,300.25 161.94,300.50 162.12,300.12 162.30,299.59 162.48,302.13 162.66,300.49 162.84,300.75 163.02,301.56 163.20,303.18 163.38,300.90 163.56,301.62 163.74,302.50 163.92,301.24 164.10,301.92 164.28,302.60 164.46,303.17 164.50,302.25 164.64,302.63 164.82,302.84 165.00,302.87 165.18,302.89 165.36,305.10 165.54,304.70 165.72,302.48 165.90,302.65 166.08,302.92 166.26,302.22 166.44,302.45 166.62,303.22 166.80,305.07 166.98,302.97 167.00,302.93 167.16,303.30 167.34,302.81 167.52,301.17 167.70,302.15 167.88,303.70 168.06,302.11 168.24,303.04 168.42,302.70 168.60,303.11 168.78,302.63 168.96,302.17 169.14,302.08 169.32,302.04 169.50,302.00 169.68,302.00 169.86,301.99 170.00,302.09 170.04,302.15 170.22,300.95 170.40,301.68 170.58,302.47 170.76,302.35 170.94,300.89 171.12,300.35 171.30,300.51 171.48,299.94 171.66,300.09 171.84,301.12 172.02,300.64 172.20,299.69 172.38,299.60 172.56,299.59 172.74,299.35 172.92,299.16 173.00,298.67 173.10,298.53 173.28,297.32 173.46,297.56 173.64,296.94 173.82,295.74 174.00,295.30 174.18,295.34 174.36,294.58 174.54,294.58 174.72,293.40 174.90,293.34 175.08,292.76 175.26,291.51 175.44,291.39 175.60,291.01 175.62,290.83 175.80,289.19 175.98,288.25 176.16,287.28 176.34,285.74 176.52,284.84 176.70,283.41 176.88,282.17 177.06,280.60 177.24,279.94 177.42,277.73 177.60,277.79 177.78,275.79 177.90,275.12 177.96,273.60 178.14,269.59 178.32,265.66 178.50,262.15 178.68,257.88 178.86,253.89 179.04,249.80 179.22,245.87 179.40,242.17 179.58,238.29 179.60,238.16 179.76,235.40 179.94,233.51 180.12,230.94 180.30,228.90 180.48,226.86 180.66,225.02 180.84,222.10 181.00,220.47 181.02,220.94 181.20,223.09 181.38,224.88 181.56,227.75 181.74,230.58 181.92,232.36 182.10,235.77 182.28,236.86 182.46,238.82 182.60,240.60 182.64,241.36 182.82,244.14 183.00,247.61 183.18,251.35 183.36,254.11 183.54,257.14 183.72,260.50 183.90,263.66 184.08,266.49 184.20,268.76 184.26,269.75 184.44,270.51 184.62,272.54 184.80,273.58 184.98,275.37 185.16,277.33 185.34,278.52 185.52,280.48 185.70,281.88 185.88,283.32 186.06,284.39 186.10,285.03 186.24,286.62 186.42,287.58 186.60,288.12 186.78,290.10 186.96,291.38 187.14,292.72 187.32,293.97 187.50,295.71 187.68,296.69 187.86,298.38 188.04,300.02 188.20,300.34 188.22,300.87 188.40,299.48 188.58,298.76 188.76,301.17 188.94,302.04 189.12,302.16 189.30,302.15 189.48,303.95 189.66,303.42 189.84,303.44 190.02,304.24 190.20,306.11 190.38,305.31 190.56,306.31 190.74,305.22 190.92,306.63 191.10,306.59 191.28,307.04 191.30,307.06 191.46,307.01 191.64,307.19 191.82,306.29 192.00,306.30 192.18,306.00 192.36,305.90 192.54,305.55 192.72,304.10 192.90,305.54 193.08,304.81 193.26,303.81 193.44,304.12 193.62,304.60 193.80,304.29 193.98,303.18 194.16,302.67 194.30,303.25 194.34,302.95 194.52,302.31 194.70,301.56 194.88,301.71 195.06,300.25 195.24,300.64 195.42,300.07 195.60,299.21 195.78,298.59 195.96,298.44 196.00,298.02 196.14,297.47 196.32,296.54 196.50,296.32 196.68,294.72 196.86,294.34 197.04,293.47 197.20,292.99 197.22,292.36 197.40,294.08 197.58,294.92 197.76,297.13 197.94,296.98 198.12,299.20 198.30,299.83 198.48,300.50 198.66,301.90 198.84,302.89 199.00,304.03 199.02,304.68 199.20,304.37 199.38,306.35 199.56,305.73 199.74,304.74 199.92,304.75 200.10,305.83 200.28,305.69 200.46,305.74 200.64,307.18 200.82,306.60 201.00,306.44 201.18,307.04 201.36,307.28 201.54,307.86 201.72,307.56 201.90,307.87 202.08,307.51 202.26,308.90 202.44,309.45 202.60,307.75 202.62,309.13 202.80,310.33 202.98,309.51 203.16,309.39 203.34,308.53 203.52,311.09 203.70,308.94 203.88,309.76 204.06,309.57 204.24,309.33 204.42,310.63 204.60,310.59 204.78,309.34 204.96,309.41 205.14,310.33 205.32,309.47 205.50,310.22 205.68,309.15 205.86,309.26 206.00,309.85 206.04,309.38 206.22,309.64 206.40,309.33 206.58,309.24 206.76,309.78 206.94,309.44 207.12,309.83 207.30,310.01 207.48,311.35 207.66,310.25 207.84,310.54 208.02,311.52 208.20,310.65 208.38,310.55 208.56,311.05 208.74,311.65 208.92,310.95 209.10,311.68 209.28,311.48 209.46,311.58 209.64,311.84 209.70,311.55 209.82,311.20 210.00,311.34 210.18,310.54 210.36,312.50 210.54,311.98 210.72,312.89 210.90,311.54 211.08,311.85 211.26,311.93 211.44,311.25 211.62,312.03 211.80,312.08 211.98,311.95 212.16,311.94 212.34,311.83 212.52,311.32 212.70,312.48 212.88,312.02 213.06,311.69 213.24,314.49 213.42,313.63 213.60,312.78 213.78,313.03 213.96,312.66 214.14,315.08 214.32,313.06 214.50,313.99 214.68,313.82 214.86,311.77 215.04,312.19 215.22,313.50 215.40,312.19 215.58,314.64 215.76,315.20 215.80,313.54 215.94,313.49 216.12,313.33 216.30,313.14 216.48,313.87 216.66,313.17 216.84,313.39 217.02,314.20 217.20,314.57 217.38,314.06 217.56,315.25 217.74,314.52 217.92,313.93 218.10,313.86 218.28,313.57 218.46,314.55 218.64,314.03 218.82,314.78 219.00,314.05 219.18,314.81 219.36,314.44 219.54,314.23 219.72,314.49 219.90,314.47 220.08,312.92 220.26,314.72 220.44,313.43 220.62,314.29 220.80,314.23 220.98,314.68 221.16,313.90 221.34,314.58 221.52,314.71 221.70,314.08 221.88,314.31 222.06,314.10 222.24,314.56 222.42,314.94 222.60,314.12 222.78,312.12 222.96,315.01 223.14,314.10 223.32,313.41 223.50,314.26 223.68,313.84 223.86,313.32 224.04,313.64 224.22,313.99 224.40,313.67 224.58,313.24 224.76,312.74 224.94,313.78 225.12,314.30 225.30,313.84 225.48,313.96 225.66,314.63 225.84,314.36 226.02,316.04 226.20,314.92 226.38,315.53 226.56,314.52 226.60,314.65 226.74,318.35 226.92,312.73 227.10,314.76 227.28,315.19 227.46,314.50 227.64,313.91 227.82,314.99 228.00,313.92 228.18,314.35 228.36,313.78 228.54,315.28 228.72,313.68 228.90,315.82 229.08,314.87 229.26,314.65 229.44,314.06 229.62,314.52 229.80,314.27 229.98,315.25 230.16,314.55 230.34,312.80 230.52,315.59 230.70,316.41 230.88,316.66 231.06,314.10 231.24,314.47 231.42,314.77 231.60,313.67 231.78,314.42 231.96,314.26 232.14,315.18 232.32,312.97 232.50,315.57 232.68,312.85 232.86,315.55 233.04,314.50 233.22,314.07 233.40,314.37 233.58,315.74 233.76,314.10 233.94,315.16 234.12,315.47 234.30,314.39 234.48,314.77 234.66,314.67 234.84,315.69 235.02,314.05 235.20,314.38 235.38,314.68 235.56,313.76 235.74,314.00 235.92,314.70 236.10,314.44 236.28,314.24 236.46,314.87 236.64,313.79 236.82,315.09 237.00,313.92 237.18,315.16 237.36,314.55 237.40,314.54 237.54,314.48 237.72,314.84 237.90,314.24 238.08,314.92 238.26,313.89 238.44,314.87 238.62,316.28 238.80,316.15 238.98,314.43 239.16,315.65 239.34,314.90 239.52,314.70 239.70,314.57 239.88,314.60 240.06,314.55 240.24,315.78 240.42,314.93 240.60,314.00 240.78,314.98 240.96,314.64 241.14,316.73 241.32,314.32 241.50,314.99 241.68,314.80 241.86,314.39 242.04,314.12 242.22,315.79 242.40,313.26 242.58,314.69 242.76,315.05 242.94,314.84 243.12,315.23 243.30,314.66 243.48,315.65 243.66,315.33 243.84,315.40 244.02,316.79 244.20,314.63 244.38,315.12 244.56,314.52 244.74,314.85 244.92,315.11 245.10,315.44 245.28,314.54 245.46,315.58 245.64,315.37 245.82,315.03 246.00,315.82 246.18,314.98 246.36,316.83 246.54,316.51 246.72,315.03 246.90,316.44 247.08,315.64 247.26,315.31 247.44,315.42 247.62,315.80 247.80,316.66 247.98,316.21 248.10,315.91 248.16,315.28 248.34,313.21 248.52,314.49 248.70,314.85 248.88,314.06 249.06,314.79 249.24,313.90 249.42,314.25 249.60,314.13 249.78,315.11 249.96,314.07 250.14,313.23 250.32,314.18 250.50,314.74 250.68,313.87 250.70,312.77 250.86,313.80 251.04,312.49 251.22,313.00 251.40,312.64 251.58,312.03 251.76,310.58 251.94,310.94 252.12,310.06 252.30,310.66 252.48,308.94 252.66,309.39 252.84,309.40 253.02,309.21 253.20,308.26 253.38,307.13 253.50,308.11 253.56,307.37 253.74,307.40 253.92,304.62 254.10,306.80 254.28,307.90 254.46,306.99 254.64,306.78 254.82,306.43 255.00,305.56 255.18,305.62 255.36,307.00 255.54,304.95 255.72,305.66 255.90,305.13 256.08,305.37 256.26,304.25 256.44,303.85 256.62,304.44 256.80,303.86 256.80,303.97 256.98,306.79 257.16,303.07 257.34,303.13 257.52,302.73 257.70,302.87 257.88,302.39 258.06,302.62 258.24,302.12 258.42,302.05 258.50,301.89 258.60,302.47 258.78,301.17 258.96,301.19 259.14,301.45 259.30,301.13 259.32,300.16 259.50,302.20 259.68,303.02 259.86,303.35 260.04,303.54 260.22,305.01 260.40,304.77 260.58,305.48 260.76,307.10 260.94,307.72 261.00,308.65 261.12,307.88 261.30,308.08 261.48,308.70 261.66,309.91 261.84,309.85 262.02,307.73 262.20,309.67 262.38,311.69 262.56,311.05 262.74,311.26 262.92,310.82 263.10,311.68 263.28,310.88 263.40,313.06 263.46,313.65 263.64,312.79 263.82,313.28 264.00,312.25 264.18,312.75 264.36,313.30 264.54,313.47 264.72,313.45 264.90,312.55 265.08,314.54 265.26,313.32 265.44,313.96 265.62,314.45 265.80,313.20 265.80,314.15 265.98,313.84 266.16,315.43 266.34,313.61 266.52,313.07 266.70,313.17 266.88,312.72 267.06,311.76 267.24,311.88 267.42,312.23 267.60,312.06 267.78,311.65 267.96,311.22 268.14,310.33 268.20,311.84 268.32,310.54 268.50,310.16 268.68,309.85 268.86,308.56 269.04,307.36 269.22,305.57 269.40,305.68 269.58,305.87 269.76,303.61 269.80,303.66 269.94,302.36 270.12,300.88 270.30,299.16 270.48,297.13 270.66,295.59 270.84,293.44 271.02,291.82 271.20,290.37 271.30,289.32 271.38,289.13 271.56,288.63 271.74,287.20 271.92,286.61 272.10,285.19 272.28,283.75 272.46,282.09 272.50,282.12 272.64,283.10 272.82,283.48 273.00,284.56 273.18,287.14 273.36,287.26 273.54,287.67 273.72,287.67 273.90,289.45 274.08,290.68 274.26,292.62 274.44,291.45 274.60,293.80 274.62,294.49 274.80,294.72 274.98,293.73 275.16,294.23 275.34,294.23 275.52,292.62 275.70,294.17 275.88,295.70 276.06,294.09 276.20,295.24 276.24,295.09 276.42,294.84 276.60,293.34 276.78,292.77 276.96,293.12 277.14,291.51 277.32,288.88 277.50,289.67 277.68,288.12 277.86,288.88 278.04,287.35 278.22,287.00 278.40,285.56 278.58,283.95 278.76,283.67 278.80,283.71 278.94,284.73 279.12,285.74 279.30,285.89 279.48,287.11 279.66,287.07 279.84,288.09 280.02,288.83 280.20,289.62 280.38,289.18 280.56,290.60 280.74,291.10 280.92,292.59 281.10,293.09 281.28,295.64 281.30,293.94 281.46,293.73 281.64,293.77 281.82,295.01 282.00,295.60 282.18,294.86 282.36,295.84 282.54,297.33 282.72,297.35 282.90,296.28 283.08,297.32 283.26,298.30 283.44,298.17 283.62,296.99 283.70,298.62 283.80,298.44 283.98,298.73 284.16,300.64 284.34,299.81 284.52,302.06 284.70,300.12 284.88,301.21 285.06,299.92 285.24,301.26 285.42,300.49 285.60,301.11 285.78,300.43 285.96,301.72 286.10,301.11 286.14,302.13 286.32,300.60 286.50,300.37 286.68,300.12 286.86,300.42 287.04,299.68 287.22,298.76 287.40,298.69 287.58,298.86 287.76,298.59 287.94,297.84 288.12,296.97 288.30,297.60 288.48,296.26 288.50,296.39 288.66,296.45 288.84,295.93 289.02,294.36 289.20,294.71 289.38,295.16 289.56,294.64 289.74,294.71 289.92,294.10 290.10,293.82 290.28,293.96 290.40,293.14 290.46,293.03 290.64,294.17 290.82,295.28 291.00,293.81 291.18,294.78 291.36,295.25 291.54,295.63 291.72,296.55 291.90,294.44 292.08,295.74 292.10,296.51 292.26,296.63 292.44,297.19 292.62,297.01 292.80,299.02 292.98,298.17 293.16,297.58 293.34,299.57 293.52,299.23 293.70,299.19 293.88,299.05 294.06,298.87 294.24,301.08 294.42,300.17 294.50,300.92 294.60,300.81 294.78,299.46 294.96,300.30 295.14,299.84 295.32,299.49 295.50,298.79 295.68,298.32 295.86,298.60 296.04,299.37 296.22,297.66 296.40,298.04 296.58,296.35 296.76,296.84 296.90,296.17 296.94,296.06 297.12,295.15 297.30,297.75 297.48,296.31 297.66,296.67 297.84,297.07 298.02,297.36 298.20,298.11 298.38,296.90 298.56,297.02 298.74,297.74 298.92,299.03 299.10,299.08 299.28,299.54 299.30,298.73 299.46,296.44 299.64,298.26 299.82,297.56 300.00,296.82 300.18,296.89 300.36,297.10 300.54,296.59 300.72,296.47 300.90,296.01 301.08,295.63 301.26,295.28 301.44,295.31 301.60,294.13 301.62,294.50 301.80,293.10 301.98,291.79 302.16,291.22 302.34,289.88 302.52,288.88 302.70,287.27 302.88,285.09 303.06,285.36 303.24,283.49 303.42,282.92 303.60,280.72 303.78,279.73 303.96,278.58 304.00,278.38 304.14,279.82 304.32,278.99 304.50,280.71 304.68,281.72 304.86,282.48 305.04,283.38 305.22,284.01 305.40,284.22 305.58,284.76 305.76,286.58 305.94,286.83 306.12,287.36 306.30,288.41 306.40,288.94 306.48,289.89 306.66,290.55 306.84,292.15 307.00,293.16 307.02,293.30 307.20,294.60 307.38,294.29 307.56,294.29 307.74,295.59 307.92,295.75 308.10,296.22 308.28,297.48 308.46,297.26 308.64,297.89 308.82,298.59 309.00,299.53 309.10,299.45 309.18,299.54 309.36,298.28 309.54,298.47 309.72,300.33 309.90,303.60 310.08,301.81 310.26,302.26 310.44,302.90 310.62,303.08 310.80,303.02 310.98,304.19 311.10,304.22 311.16,304.22 311.34,303.46 311.52,305.41 311.70,306.12 311.88,305.97 312.06,305.63 312.24,306.93 312.42,307.06 312.60,307.65 312.78,308.67 312.96,309.08 313.14,309.55 313.20,309.51 313.32,309.97 313.50,310.12 313.68,310.30 313.86,309.87 314.04,311.60 314.22,311.13 314.40,312.12 314.58,312.54 314.76,312.02 314.94,312.56 315.12,312.65 315.20,312.79 315.30,314.48 315.48,309.95 315.66,313.00 315.84,311.80 316.02,311.62 316.20,312.13 316.38,311.36 316.56,311.56 316.74,310.72 316.92,309.48 317.10,311.07 317.28,310.36 317.30,310.95 317.46,309.31 317.64,309.85 317.82,311.38 318.00,309.87 318.18,310.14 318.36,308.54 318.54,309.89 318.72,309.52 318.90,309.84 319.08,309.44 319.26,309.23 319.30,308.66 319.44,309.22 319.62,309.74 319.80,309.39 319.98,309.95 320.16,309.25 320.34,310.74 320.52,310.39 320.70,309.83 320.88,310.17 321.06,310.45 321.24,309.88 321.40,310.69 321.42,310.89 321.60,310.73 321.78,310.36 321.96,309.83 322.14,310.43 322.32,309.87 322.50,307.58 322.68,309.96 322.86,308.22 323.04,309.51 323.22,309.32 323.40,310.07 323.58,309.90 323.76,308.84 323.94,309.00 324.12,308.15 324.30,308.81 324.40,308.50 324.48,308.67 324.66,308.57 324.84,309.55 325.02,308.70 325.20,309.14 325.38,308.37 325.56,308.17 325.74,309.50 325.92,307.96 326.10,306.88 326.28,307.56 326.46,308.20 326.50,307.58 326.64,308.31 326.82,308.30 327.00,309.03 327.18,307.81 327.36,309.28 327.54,308.31 327.72,308.92 327.90,310.15 328.08,309.10 328.26,309.54 328.44,309.45 328.50,309.32 328.62,309.69 328.80,308.64 328.98,308.56 329.16,309.71 329.34,309.60 329.52,310.37 329.70,309.81 329.88,309.71 330.06,309.58 330.24,310.73 330.42,310.41 330.60,310.14 330.60,310.24 330.78,310.32 330.96,309.38 331.14,309.92 331.32,310.71 331.50,310.04 331.68,310.24 331.86,311.54 332.04,312.21 332.22,311.62 332.40,312.77 332.58,311.81 332.60,312.54 332.76,312.42 332.94,313.14 333.12,312.92 333.30,313.02 333.48,312.10 333.66,312.63 333.84,312.95 334.02,313.62 334.20,314.19 334.38,314.60 334.56,314.40 334.74,314.45 334.92,314.60 335.10,314.32 335.28,313.21 335.46,313.69 335.64,313.50 335.70,314.76 335.82,314.91 336.00,314.07 336.18,314.43 336.36,314.18 336.54,315.44 336.72,315.27 336.90,315.10 337.08,315.03 337.26,314.91 337.44,314.90 337.62,314.30 337.80,315.04 337.98,315.16 338.16,315.24 338.34,314.19 338.52,316.06 338.70,315.45 338.88,315.46 339.06,314.96 339.24,315.40 339.42,315.65 339.60,315.07 339.78,315.81 339.80,315.72 339.96,316.08 340.14,315.79 340.32,316.08 340.50,317.06 340.68,316.14 340.86,313.53 341.04,315.07 341.22,316.06 341.40,316.18 341.58,316.44 341.76,316.27 341.94,316.39 342.12,315.49 342.30,317.16 342.48,316.71 342.66,317.81 342.84,317.74 343.02,318.24 343.20,317.19 343.38,315.95 343.56,317.01 343.74,317.21 343.90,316.75 343.92,315.91 344.10,317.54 344.28,317.60 344.46,316.60 344.64,315.03 344.82,317.31 345.00,317.15 345.18,316.19 345.36,316.24 345.54,316.27 345.72,316.76 345.90,317.18 346.08,316.93 346.26,315.76 346.44,315.98 346.62,316.13 346.80,316.17 346.98,315.52 347.16,315.60 347.34,315.86 347.52,315.82 347.70,315.89 347.88,315.49 347.90,315.14 348.06,315.03 348.24,315.52 348.42,315.24 348.60,317.31 348.78,315.22 348.96,316.36 349.14,315.23 349.32,316.17 349.50,316.13 349.68,318.30 349.86,316.26 350.04,317.11 350.22,316.88 350.40,316.05 350.58,316.31 350.76,315.49 350.94,315.91 351.12,317.14 351.30,315.98 351.48,316.24 351.66,315.96 351.84,317.00 352.00,316.46 352.02,316.66 352.20,315.92 352.38,317.05 352.56,315.76 352.74,316.50 352.92,317.65 353.10,316.53 353.28,316.34 353.46,316.63 353.64,316.16 353.82,315.42 354.00,316.55 354.18,316.99 354.36,315.91 354.54,316.29 354.72,316.95 354.90,316.10 355.00,316.56 355.08,316.32 355.26,315.91 355.44,317.39 355.62,316.73 355.80,316.77 355.98,316.95 356.16,317.21 356.34,316.53 356.52,317.88 356.70,314.04 356.88,315.96 357.06,315.74 357.24,316.30 357.42,316.45 357.60,316.56 357.78,317.63 357.96,316.78 358.14,315.67 358.32,315.64 358.50,315.66 358.68,312.45 358.86,315.50 359.04,315.83 359.10,315.32 359.22,315.20 359.40,314.77 359.58,314.48 359.76,315.00 359.94,315.04 360.12,314.22 360.30,315.00 360.48,314.85 360.66,316.89 360.84,314.66 361.02,312.63 361.20,313.45 361.38,314.89 361.56,313.26 361.74,313.29 361.92,313.53 362.10,313.86 362.28,313.25 362.46,311.58 362.64,312.86 362.82,314.09 363.00,312.31 363.18,312.76 363.20,312.48 363.36,311.20 363.54,311.93 363.72,311.86 363.90,312.28 364.08,310.92 364.26,311.88 364.44,310.32 364.62,310.53 364.80,310.44 364.98,311.55 365.16,309.94 365.34,309.67 365.52,308.37 365.70,309.08 365.88,309.40 366.06,309.32 366.20,309.31 366.24,309.95 366.42,307.41 366.60,308.78 366.78,308.31 366.96,308.33 367.14,307.96 367.32,307.42 367.50,307.33 367.68,306.96 367.86,307.74 368.04,309.22 368.22,306.78 368.30,307.68 368.40,307.68 368.58,307.32 368.76,307.12 368.94,307.38 369.12,309.40 369.30,308.15 369.48,310.20 369.66,307.94 369.84,307.72 370.02,308.50 370.20,307.70 370.38,308.65 370.56,308.81 370.74,310.13 370.92,309.31 371.10,307.04 371.28,308.06 371.40,308.82 371.46,309.55 371.64,309.65 371.82,309.68 372.00,310.38 372.18,309.22 372.36,309.73 372.54,310.41 372.72,310.00 372.90,309.56 373.08,308.63 373.26,308.74 373.44,310.98 373.62,309.00 373.80,308.32 373.98,310.14 374.16,309.77 374.34,309.70 374.52,309.98 374.70,309.48 374.88,309.73 375.06,309.67 375.24,309.49 375.40,310.55 375.42,310.06 375.60,310.11 375.78,310.39 375.96,310.54 376.14,310.85 376.32,310.73 376.50,310.24 376.68,309.57 376.86,310.67 377.04,310.13 377.22,310.57 377.40,311.47 377.58,309.69 377.76,310.75 377.94,310.46 378.12,310.99 378.30,311.13 378.48,310.85 378.66,312.40 378.84,311.47 379.02,310.75 379.20,312.04 379.38,311.85 379.50,311.58 379.56,312.09 379.74,312.12 379.92,311.61 380.10,312.75 380.28,312.05 380.46,310.74 380.64,311.37 380.82,310.19 381.00,312.14 381.18,311.25 381.36,312.00 381.54,312.06 381.72,311.01 381.90,314.32 382.08,313.29 382.26,314.48 382.44,312.15 382.62,312.06 382.80,311.77 382.98,315.31 383.16,312.89 383.34,311.86 383.52,310.14 383.60,312.76 383.70,312.24 383.88,312.32 384.06,312.83 384.24,312.78 384.42,312.26 384.60,312.84 384.78,312.06 384.96,311.94 385.14,312.10 385.32,311.92 385.50,311.55 385.68,312.19 385.86,312.05 386.04,311.20 386.22,311.89 386.40,311.84 386.58,311.83 386.76,311.84 386.94,312.05 387.12,311.72 387.30,311.83 387.48,312.59 387.66,310.56 387.70,311.73 387.84,310.55 388.02,309.93 388.20,312.24 388.38,310.71 388.56,310.41 388.74,311.79 388.92,310.99 389.10,311.08 389.28,311.10 389.46,310.91 389.64,311.14 389.82,310.67 390.00,311.12 390.18,310.41 390.36,309.84 390.54,310.92 390.72,311.62 390.80,310.75 390.90,309.67 391.08,310.72 391.26,311.09 391.44,311.17 391.62,311.83 391.80,313.40 391.98,311.85 392.16,312.54 392.34,311.84 392.52,312.23 392.70,313.16 392.88,312.13 393.06,312.82 393.24,313.02 393.42,312.81 393.60,313.61 393.78,313.81 393.90,313.63 393.96,313.12 394.14,313.20 394.32,313.65 394.50,313.22 394.68,313.91 394.86,314.00 395.04,312.73 395.22,313.82 395.40,313.90 395.58,313.87 395.76,314.16 395.94,313.90 396.12,313.02 396.30,313.34 396.48,313.88 396.66,314.12 396.84,313.22 397.02,313.61 397.20,312.92 397.38,313.99 397.56,314.25 397.74,312.45 397.90,313.82 397.92,313.51 398.10,313.60 398.28,313.64 398.46,314.59 398.64,313.61 398.82,314.23 399.00,316.21 399.18,314.03 399.36,314.02 399.54,314.00 399.72,313.82 399.90,312.06 400.08,313.55 400.26,313.39 400.44,312.95 400.62,313.62 400.80,312.74 400.98,312.60 401.00,312.46 401.16,312.53 401.34,312.39 401.52,313.16 401.70,311.12 401.88,312.01 402.06,311.06 402.24,311.73 402.42,310.88 402.60,310.98 402.78,310.84 402.96,310.87 403.14,310.97 403.32,310.28 403.50,310.14 403.68,309.82 403.70,309.64 403.86,311.16 404.04,310.82 404.22,311.71 404.40,312.03 404.58,313.16 404.76,313.08 404.94,313.34 405.10,313.78 405.12,314.31 405.30,313.68 405.48,313.13 405.66,313.83 405.84,313.01 406.02,314.49 406.20,313.84 406.38,314.30 406.56,314.75 406.74,314.06 406.92,314.78 407.10,314.03 407.28,312.94 407.46,314.04 407.64,313.89 407.82,313.91 408.00,314.07 408.18,314.84 408.36,314.59 408.54,314.58 408.72,313.71 408.80,314.18 408.90,314.62 409.08,313.81 409.26,315.37 409.44,314.03 409.62,314.80 409.80,314.14 409.98,314.12 410.16,314.33 410.34,314.47 410.52,313.76 410.70,314.30 410.88,313.30 411.06,313.58 411.24,313.84 411.42,311.89 411.60,314.43 411.78,313.76 411.96,313.17 412.14,313.74 412.32,313.20 412.50,312.79 412.68,313.08 412.70,313.01 412.86,312.59 413.04,313.63 413.22,311.49 413.40,312.21 413.58,312.02 413.76,311.77 413.94,312.88 414.12,309.88 414.30,311.61 414.48,309.99 414.66,309.97 414.84,310.58 415.02,310.56 415.20,310.42 415.38,310.00 415.56,311.66 415.60,310.35 415.74,310.38 415.92,311.68 416.10,310.61 416.28,311.82 416.46,311.26 416.64,309.76 416.82,312.75 417.00,311.70 417.18,311.59 417.36,312.08 417.54,313.01 417.72,313.26 417.90,313.85 418.08,313.12 418.26,313.26 418.44,314.90 418.50,313.88 418.62,313.27 418.80,314.63 418.98,313.82 419.16,314.61 419.34,314.32 419.52,314.94 419.70,314.73 419.88,315.50 420.06,314.74 420.24,313.72 420.42,315.10 420.60,314.21 420.78,315.10 420.96,315.19 421.14,315.25 421.32,315.21 421.50,315.48 421.68,315.98 421.86,314.78 422.04,316.31 422.22,315.13 422.30,316.06 422.40,316.09 422.58,315.81 422.76,315.77 422.94,314.75 423.12,317.03 423.30,316.13 423.48,315.67 423.66,315.56 423.84,317.25 424.02,316.46 424.20,316.97 424.38,317.01 424.56,315.34 424.74,317.49 424.92,317.08 425.10,316.96 425.28,317.10 425.46,317.23 425.64,318.03 425.82,317.19 426.00,316.57 426.18,317.13 426.20,317.22 426.36,317.62 426.54,317.66 426.72,318.85 426.90,317.83 427.08,316.76 427.26,317.60 427.44,317.70 427.62,319.41 427.80,316.96 427.98,317.92 428.16,317.99 428.34,316.81 428.52,318.68 428.70,317.03 428.88,316.26 429.06,318.32 429.24,318.72 429.42,317.20 429.60,316.81 429.78,315.95 429.96,318.36 430.00,317.01 430.14,318.92 430.32,317.47 430.50,317.79 430.68,317.33 430.86,317.26 431.04,317.52 431.22,316.07 431.40,317.37 431.58,317.64 431.76,316.95 431.94,316.83 432.12,317.10 432.30,316.96 432.48,317.53 432.66,316.30 432.84,317.59 433.02,316.20 433.20,316.32 433.38,316.64 433.56,316.31 433.74,316.11 433.80,315.73 433.92,315.13 434.10,316.40 434.28,317.52 434.46,316.44 434.64,315.14 434.82,314.41 435.00,314.61 435.18,314.60 435.36,314.20 435.54,314.14 435.72,313.68 435.90,313.91 436.08,313.95 436.26,313.45 436.44,313.15 436.62,313.99 436.70,313.04 436.80,311.60 436.98,314.30 437.16,313.06 437.34,311.44 437.52,311.29 437.70,312.61 437.88,311.34 438.06,311.61 438.24,311.32 438.42,311.31 438.60,310.40 438.78,310.84 438.96,310.10 439.14,309.68 439.32,309.53 439.50,310.24 439.60,309.14 439.68,309.90 439.86,309.26 440.04,308.63 440.22,307.84 440.40,309.09 440.58,307.43 440.76,309.25 440.94,307.72 441.12,308.95 441.30,305.99 441.48,306.39 441.66,308.00 441.84,306.64 442.02,306.47 442.20,306.75 442.38,306.68 442.56,306.01 442.74,307.09 442.92,305.41 443.10,305.45 443.28,307.56 443.46,305.82 443.50,305.88 443.64,305.01 443.82,305.65 444.00,305.73 444.18,306.64 444.36,305.75 444.54,305.77 444.72,305.84 444.90,305.71 445.08,305.82 445.26,306.76 445.44,306.65 445.62,305.95 445.80,305.05 445.98,306.19 446.16,305.59 446.30,305.70 446.34,305.99 446.52,305.69 446.70,305.35 446.88,305.66 447.06,306.73 447.24,305.80 447.42,305.32 447.60,305.62 447.78,305.06 447.96,305.02 448.14,305.50 448.32,305.96 448.50,305.54 448.68,304.96 448.86,304.77 449.04,305.64 449.20,304.50 449.22,305.40 449.40,305.26 449.58,302.22 449.76,307.46 449.94,307.19 450.12,303.50 450.30,303.53 450.48,304.39 450.66,302.82 450.84,302.75 451.02,301.87 451.20,302.84 451.38,301.85 451.56,302.63 451.74,303.18 451.92,301.16 452.10,300.67 452.10,300.39 452.28,301.40 452.46,302.61 452.64,300.10 452.82,301.91 453.00,301.19 453.18,301.71 453.36,301.77 453.54,302.18 453.72,302.10 453.90,303.32 454.08,301.42 454.26,303.01 454.44,303.28 454.62,304.46 454.80,303.52 454.98,303.54 455.00,303.37 455.16,303.45 455.34,304.29 455.52,302.10 455.70,304.72 455.88,304.72 456.06,304.27 456.24,304.94 456.42,304.17 456.60,304.12 456.78,305.11 456.96,305.16 457.14,304.82 457.32,305.42 457.50,304.67 457.68,304.35 457.86,306.24 457.90,306.27 458.04,306.20 458.22,306.03 458.40,306.11 458.58,307.19 458.76,307.55 458.94,306.58 459.12,306.57 459.30,306.78 459.48,307.60 459.66,307.06 459.84,307.42 460.00,307.14 460.02,307.34 460.20,308.43 460.38,308.82 460.56,310.18 460.74,307.53 460.92,308.01 461.10,308.01 461.28,308.69 461.46,307.88 461.64,308.81 461.82,307.64 462.00,307.87 462.18,307.47 462.36,307.17 462.54,308.05 462.72,308.18 462.90,307.66 463.08,308.10 463.20,307.35 463.26,308.07 463.44,307.49 463.62,307.32 463.80,307.89 463.98,307.24 464.16,308.06 464.34,308.19 464.52,307.39 464.70,308.11 464.88,307.98 465.06,308.78 465.24,307.19 465.42,307.77 465.60,308.09 465.78,309.03 465.96,308.18 466.14,308.51 466.32,308.79 466.50,309.38 466.68,309.32 466.86,307.96 467.04,308.89 467.22,309.93 467.40,308.91 467.40,308.56 467.58,308.26 467.76,308.84 467.94,309.09 468.12,310.25 468.30,309.64 468.48,309.79 468.66,308.34 468.84,308.24 469.02,308.74 469.20,309.28 469.38,309.05 469.56,309.86 469.74,309.40 469.92,311.30 470.10,309.70 470.28,309.50 470.46,309.61 470.64,310.29 470.82,309.89 471.00,309.97 471.18,309.57 471.36,310.70 471.50,310.09 471.54,309.71 471.72,310.42 471.90,310.73 472.08,311.07 472.26,311.87 472.44,310.26 472.62,310.82 472.80,310.57 472.98,310.75 473.16,311.07 473.34,311.28 473.52,309.54 473.70,310.30 473.88,311.69 474.06,311.07 474.24,309.86 474.42,311.35 474.60,311.31 474.78,311.18 474.96,312.40 475.14,311.93 475.32,311.41 475.50,311.91 475.68,312.15 475.86,310.97 476.04,310.64 476.22,311.13 476.40,311.38 476.58,312.18 476.76,311.57 476.94,311.39 477.00,311.22 477.12,311.30 477.30,310.94 477.48,309.22 477.66,310.61 477.84,311.22 478.02,311.22 478.20,312.23 478.38,311.89 478.56,312.07 478.74,311.46 478.92,312.14 479.10,311.54 479.28,312.39 479.46,311.47 479.64,311.77 479.82,311.48 480.00,312.57 480.18,312.78 480.36,313.55 480.54,312.60 480.72,312.70 480.90,312.66 481.08,313.47 481.26,312.95 481.44,313.59 481.62,313.60 481.80,313.50 481.98,313.57 482.16,314.37 482.34,314.92 482.50,313.96 482.52,314.24 482.70,314.98 482.88,313.67 483.06,313.24 483.24,314.64 483.42,314.01 483.60,314.38 483.78,315.46 483.96,313.85 484.14,314.16 484.32,313.82 484.50,315.08 484.68,313.76 484.86,313.78 485.04,314.14 485.22,313.46 485.40,314.34 485.58,313.33 485.76,313.89 485.94,314.07 486.12,311.87 486.30,313.30 486.48,313.34 486.60,313.08 486.66,313.22 486.84,313.53 487.02,312.70 487.20,313.01 487.38,313.24 487.56,312.27 487.74,312.21 487.92,311.85 488.10,312.27 488.28,312.31 488.46,312.39 488.64,312.57 488.82,311.63 489.00,312.14 489.18,311.90 489.36,312.31 489.54,312.17 489.72,312.43 489.90,312.28 490.08,311.48 490.26,311.87 490.44,311.31 490.62,311.28 490.70,311.35 490.80,311.03 490.98,311.72 491.16,309.89 491.34,311.98 491.52,310.87 491.70,311.01 491.88,309.85 492.06,310.58 492.24,309.65 492.42,311.47 492.60,310.51 492.78,312.31 492.96,311.40 493.14,310.39 493.32,308.20 493.50,310.30 493.68,309.83 493.86,311.91 494.04,310.39 494.22,311.56 494.40,310.19 494.58,311.12 494.76,310.03 494.80,311.18 494.94,310.88 495.12,311.28 495.30,311.75 495.48,312.92 495.66,312.43 495.84,311.51 496.02,312.06 496.20,312.09 496.38,313.40 496.56,311.76 496.74,312.23 496.92,311.91 497.10,314.23 497.28,311.97 497.46,312.32 497.60,311.27 497.64,312.66 497.82,312.36 498.00,311.72 498.18,312.80 498.36,312.06 498.54,312.97 498.72,314.07 498.90,313.15 499.00,313.25" fill="none" stroke="#f00" stroke-width="1" stroke-linejoin="round"/>
<polyline points="48.90,293.93 49.08,293.40 49.26,294.74 49.44,293.98 49.62,292.27 49.80,293.57 49.98,293.57 50.16,292.54 50.34,294.03 50.52,292.14 50.70,293.19 50.88,293.41 51.06,293.21 51.24,293.44 51.40,293.17 51.42,295.40 51.60,292.66 51.78,293.33 51.96,293.33 52.14,292.26 52.32,287.51 52.50,294.95 52.68,291.75 52.86,291.57 53.04,293.12 53.22,291.79 53.40,291.39 53.58,291.96 53.76,288.66 53.90,291.28 53.94,290.75 54.12,289.45 54.30,291.19 54.48,292.47 54.66,289.90 54.84,290.82 55.02,290.01 55.20,290.97 55.38,290.93 55.56,289.62 55.74,291.19 55.92,290.56 56.10,290.52 56.28,290.97 56.30,289.72 56.46,290.20 56.64,290.22 56.82,287.51 57.00,289.13 57.18,287.56 57.36,287.18 57.54,285.77 57.72,286.57 57.90,285.24 58.00,285.38 58.08,284.42 58.26,283.90 58.44,282.70 58.62,282.03 58.80,280.22 58.98,279.18 59.16,279.32 59.34,278.35 59.52,276.99 59.70,277.13 59.70,275.84 59.88,275.48 60.06,272.86 60.24,273.79 60.42,271.17 60.60,269.91 60.78,270.23 60.96,267.78 61.14,266.53 61.32,263.39 61.40,263.98 61.50,262.20 61.68,260.94 61.86,259.26 62.04,258.60 62.22,255.46 62.40,254.21 62.58,252.74 62.76,251.68 62.94,250.78 63.00,249.03 63.12,246.98 63.30,245.33 63.48,243.42 63.66,240.03 63.84,239.23 64.02,236.81 64.20,234.98 64.20,235.03 64.38,232.08 64.56,228.95 64.74,225.96 64.80,224.90 64.92,218.94 65.10,209.68 65.28,200.92 65.30,199.98 65.46,189.36 65.64,177.20 65.82,164.76 66.00,153.24 66.18,141.09 66.36,129.30 66.50,119.94 66.54,117.89 66.72,109.82 66.90,101.01 67.08,92.55 67.26,84.10 67.44,75.71 67.50,72.72 67.62,79.81 67.80,90.37 67.98,100.35 68.16,110.70 68.34,121.22 68.50,130.03 68.52,131.78 68.70,147.36 68.88,162.91 69.06,178.25 69.24,193.85 69.42,209.34 69.60,224.84 69.60,224.98 69.78,229.32 69.96,234.25 70.14,238.94 70.32,243.11 70.40,245.89 70.50,247.66 70.68,251.71 70.86,254.75 71.04,258.79 71.20,262.72 71.22,262.73 71.40,265.39 71.58,267.41 71.76,269.55 71.94,273.27 72.12,274.40 72.30,276.52 72.40,278.05 72.48,278.88 72.66,279.80 72.84,281.49 73.02,283.83 73.20,282.87 73.38,284.68 73.56,286.09 73.74,287.76 73.92,292.67 74.00,287.84 74.10,288.58 74.28,289.91 74.46,287.39 74.64,289.66 74.82,289.07 75.00,290.89 75.18,292.30 75.36,291.22 75.54,288.55 75.72,290.55 75.90,292.50 76.08,294.03 76.10,292.82 76.26,293.94 76.44,293.80 76.62,293.83 76.80,295.10 76.98,294.59 77.16,295.03 77.34,296.08 77.52,295.75 77.70,296.72 77.88,296.38 78.06,295.72 78.24,296.76 78.42,298.25 78.60,297.56 78.78,299.81 78.96,293.13 79.14,298.02 79.32,299.29 79.40,299.06 79.50,298.97 79.68,299.31 79.86,300.32 80.04,299.62 80.22,299.47 80.40,299.68 80.58,300.04 80.76,299.42 80.94,300.28 81.12,300.32 81.30,301.03 81.48,300.43 81.66,298.12 81.84,300.88 82.02,302.02 82.20,301.36 82.38,301.57 82.56,301.29 82.74,301.37 82.92,302.32 83.00,301.12 83.10,303.08 83.28,303.13 83.46,304.13 83.64,300.57 83.82,300.36 84.00,303.04 84.18,301.40 84.36,301.00 84.54,301.29 84.72,301.83 84.90,300.41 85.08,301.38 85.26,301.78 85.44,301.94 85.62,297.97 85.80,302.17 85.98,301.14 86.16,301.18 86.34,301.47 86.52,300.81 86.70,302.64 86.88,300.37 87.00,301.04 87.06,300.08 87.24,301.23 87.42,302.28 87.60,302.04 87.78,299.53 87.96,300.87 88.14,301.91 88.32,299.62 88.50,300.15 88.68,300.74 88.86,300.76 89.04,300.00 89.22,300.37 89.40,300.40 89.58,299.67 89.76,300.28 89.94,300.04 90.12,300.33 90.30,299.84 90.48,299.34 90.66,299.49 90.84,301.23 91.00,299.22 91.02,298.42 91.20,296.21 91.38,300.69 91.56,303.06 91.74,299.05 91.92,299.20 92.10,298.98 92.28,300.10 92.46,300.03 92.64,301.14 92.82,299.59 93.00,301.77 93.18,300.50 93.36,301.59 93.54,301.67 93.72,302.45 93.90,300.92 94.08,301.18 94.26,301.16 94.44,300.11 94.62,301.00 94.80,302.74 94.98,302.47 95.00,299.38 95.16,301.13 95.34,300.29 95.52,299.36 95.70,299.30 95.88,301.19 96.06,302.59 96.24,300.24 96.42,299.94 96.60,300.07 96.78,300.92 96.96,300.51 97.14,297.94 97.32,298.96 97.50,300.96 97.68,299.68 97.86,299.96 98.04,300.33 98.22,299.80 98.40,300.02 98.58,299.48 98.76,298.65 98.94,298.41 99.12,303.27 99.30,295.74 99.48,299.70 99.66,300.53 99.84,298.45 100.00,298.93 100.02,298.84 100.20,298.65 100.38,298.91 100.56,298.80 100.74,300.86 100.92,297.64 101.10,300.93 101.28,296.69 101.46,300.81 101.64,298.58 101.82,299.47 102.00,294.24 102.18,298.86 102.36,299.44 102.54,299.39 102.72,300.03 102.90,298.17 103.08,299.13 103.26,299.64 103.44,296.84 103.62,300.62 103.80,299.51 103.98,299.08 104.16,299.10 104.34,300.25 104.52,297.75 104.70,299.34 104.88,299.57 105.00,299.84 105.06,300.66 105.24,300.32 105.42,301.68 105.60,300.66 105.78,299.69 105.96,299.74 106.14,298.89 106.32,299.53 106.50,300.37 106.68,300.70 106.86,299.62 107.04,299.77 107.22,300.92 107.40,302.32 107.58,298.41 107.76,298.25 107.94,300.71 108.00,300.17 108.12,299.96 108.30,300.33 108.48,300.64 108.66,298.24 108.84,302.04 109.02,301.90 109.20,299.46 109.38,299.41 109.56,298.80 109.74,299.41 109.92,298.36 110.10,299.11 110.28,300.37 110.46,298.75 110.64,299.50 110.82,297.55 111.00,299.55 111.00,297.73 111.18,297.44 111.36,298.61 111.54,297.62 111.72,296.72 111.90,296.39 112.08,298.60 112.26,294.85 112.44,295.64 112.62,299.39 112.80,298.09 112.98,296.96 113.16,296.28 113.34,298.19 113.52,297.75 113.70,297.24 113.88,296.80 114.00,296.54 114.06,298.88 114.24,296.08 114.42,294.32 114.60,293.90 114.78,295.25 114.96,295.27 115.14,294.68 115.32,294.62 115.50,293.38 115.68,293.24 115.86,292.63 116.04,292.53 116.22,291.94 116.30,292.33 116.40,290.97 116.58,290.40 116.76,290.51 116.94,289.13 117.12,288.17 117.30,289.55 117.48,287.71 117.50,286.33 117.66,286.21 117.84,287.61 118.02,288.38 118.20,288.64 118.38,289.65 118.56,290.41 118.74,291.47 118.80,290.83 118.92,291.46 119.10,289.89 119.28,290.42 119.46,290.67 119.64,291.69 119.82,293.84 120.00,293.37 120.18,293.94 120.36,294.23 120.50,294.31 120.54,292.49 120.72,293.76 120.90,295.86 121.08,294.41 121.26,294.65 121.44,294.31 121.62,295.47 121.80,295.36 121.98,294.73 122.16,295.02 122.34,294.86 122.52,295.24 122.70,295.32 122.88,295.30 123.06,296.64 123.24,297.33 123.42,293.24 123.60,295.07 123.78,293.07 123.96,295.12 124.14,296.29 124.32,295.89 124.50,295.67 124.68,294.02 124.86,296.56 125.04,296.02 125.22,295.49 125.40,296.80 125.58,293.89 125.76,295.47 125.94,297.27 126.00,295.55 126.12,295.41 126.30,296.30 126.48,296.52 126.66,296.04 126.84,293.54 127.02,294.98 127.20,295.63 127.38,294.59 127.56,293.84 127.74,289.87 127.92,293.44 128.00,293.75 128.10,291.68 128.28,293.70 128.46,294.98 128.64,293.84 128.82,292.72 129.00,293.42 129.18,291.71 129.36,292.88 129.54,292.22 129.72,293.94 129.90,293.72 130.08,293.07 130.26,292.02 130.40,292.26 130.44,294.43 130.62,291.21 130.80,290.95 130.98,289.50 131.16,288.68 131.34,289.79 131.52,287.20 131.70,288.41 131.88,286.61 132.00,287.93 132.06,287.57 132.24,287.36 132.42,284.80 132.60,283.70 132.78,282.63 132.96,282.06 133.00,282.02 133.14,277.21 133.32,272.10 133.50,266.24 133.68,261.24 133.86,256.23 134.00,252.16 134.04,252.13 134.22,246.57 134.40,243.41 134.58,240.15 134.76,235.90 134.94,231.97 135.00,231.04 135.12,229.48 135.30,225.64 135.48,223.38 135.66,220.06 135.84,217.35 135.90,216.97 136.02,214.54 136.20,212.07 136.38,208.51 136.50,206.34 136.56,207.43 136.74,209.06 136.92,210.51 137.10,216.62 137.28,215.23 137.40,216.81 137.46,217.46 137.64,215.45 137.82,220.03 138.00,219.26 138.18,219.84 138.36,224.18 138.40,222.70 138.54,224.63 138.72,225.07 138.90,225.16 139.08,223.51 139.26,226.45 139.44,225.60 139.62,225.11 139.80,229.34 139.80,228.44 139.98,230.17 140.16,230.91 140.34,232.50 140.52,233.29 140.70,236.01 140.88,235.29 141.06,237.12 141.24,238.04 141.30,237.47 141.42,236.61 141.60,234.94 141.78,233.64 141.96,231.33 142.14,230.14 142.30,228.60 142.32,228.11 142.50,225.01 142.68,221.79 142.86,219.85 143.04,217.13 143.20,214.14 143.22,213.92 143.40,211.38 143.58,207.91 143.76,207.06 143.90,204.51 143.94,205.29 144.12,206.74 144.30,209.99 144.48,211.40 144.66,215.37 144.84,216.73 144.90,217.08 145.02,218.70 145.20,219.99 145.38,222.21 145.56,223.19 145.74,225.65 145.92,227.51 146.10,229.05 146.28,231.35 146.40,232.39 146.46,231.03 146.64,233.59 146.82,237.35 147.00,236.15 147.18,236.67 147.36,237.20 147.54,237.93 147.72,239.71 147.80,240.84 147.90,241.22 148.08,240.92 148.26,242.44 148.44,242.86 148.62,243.59 148.80,243.05 148.98,243.90 149.00,244.47 149.16,245.06 149.34,244.27 149.52,246.78 149.70,247.02 149.88,248.69 150.00,249.49 150.06,244.46 150.24,248.90 150.42,248.70 150.60,248.72 150.78,247.28 150.96,248.15 151.14,247.46 151.20,247.62 151.32,247.32 151.50,247.53 151.68,246.49 151.86,247.05 152.04,247.01 152.22,243.10 152.40,245.03 152.58,244.95 152.76,245.28 152.94,244.85 153.00,244.98 153.12,244.35 153.30,246.24 153.48,246.90 153.66,249.10 153.84,250.00 154.02,250.43 154.10,251.35 154.20,250.86 154.38,250.34 154.56,253.21 154.74,254.51 154.92,256.54 155.10,255.85 155.28,255.75 155.30,256.60 155.46,254.12 155.64,257.96 155.82,256.97 156.00,256.26 156.18,256.83 156.36,258.97 156.54,259.73 156.72,257.77 156.90,263.41 157.00,259.31 157.08,258.83 157.26,257.66 157.44,258.87 157.62,260.10 157.80,259.83 157.98,260.09 158.16,260.75 158.20,261.43 158.34,259.48 158.52,263.49 158.70,262.23 158.88,263.17 159.06,262.98 159.24,264.98 159.42,262.70 159.60,263.21 159.78,264.00 159.90,264.05 159.96,263.80 160.14,263.91 160.32,262.93 160.50,264.51 160.68,265.58 160.86,265.88 161.04,264.74 161.22,267.67 161.40,267.45 161.50,265.68 161.58,264.13 161.76,266.47 161.94,267.61 162.12,266.44 162.30,268.62 162.48,266.70 162.66,267.04 162.70,267.24 162.84,266.76 163.02,268.57 163.20,265.52 163.38,265.62 163.56,264.36 163.74,266.55 163.92,266.62 164.10,266.36 164.28,267.47 164.46,266.56 164.64,266.38 164.80,266.26 164.82,266.01 165.00,264.20 165.18,264.24 165.36,265.72 165.54,264.48 165.72,264.93 165.90,265.18 166.08,264.84 166.26,263.87 166.44,263.79 166.62,263.06 166.80,264.32 166.98,264.31 167.16,262.48 167.30,263.53 167.34,262.42 167.52,263.82 167.70,263.21 167.88,265.06 168.06,263.39 168.24,264.32 168.42,264.33 168.60,266.10 168.78,264.82 168.90,264.82 168.96,264.39 169.14,260.00 169.32,263.13 169.50,263.59 169.68,262.38 169.86,262.50 170.04,260.67 170.22,261.61 170.40,260.73 170.50,261.08 170.58,258.93 170.76,259.94 170.94,260.54 171.12,259.41 171.30,259.24 171.48,258.70 171.66,257.39 171.84,258.10 172.02,259.34 172.20,258.51 172.20,257.85 172.38,257.75 172.56,257.67 172.74,257.27 172.92,254.52 173.10,254.91 173.28,257.20 173.46,254.46 173.64,255.11 173.80,254.09 173.82,255.01 174.00,252.04 174.18,253.88 174.36,252.61 174.54,250.41 174.70,250.05 174.72,247.66 174.90,248.68 175.08,246.08 175.26,244.62 175.44,242.84 175.50,241.18 175.62,241.79 175.80,238.74 175.98,237.79 176.16,237.19 176.34,235.63 176.52,235.00 176.70,232.96 176.70,233.56 176.88,230.27 177.06,227.44 177.24,222.91 177.42,219.27 177.60,216.04 177.78,212.60 177.90,210.09 177.96,204.07 178.14,186.04 178.32,168.01 178.50,150.13 178.60,140.05 178.68,136.16 178.86,128.35 179.04,120.13 179.22,112.25 179.40,104.09 179.58,95.80 179.76,87.93 179.94,79.86 180.12,71.58 180.30,63.75 180.48,55.08 180.66,46.84 180.80,41.02 180.84,43.43 181.02,54.64 181.20,65.96 181.38,76.78 181.56,88.06 181.74,99.09 181.92,110.18 182.10,121.32 182.28,133.09 182.40,139.93 182.46,141.82 182.64,147.91 182.82,154.08 183.00,159.56 183.18,166.25 183.36,171.60 183.54,178.23 183.72,184.34 183.80,187.04 183.90,189.53 184.08,193.83 184.26,197.05 184.44,202.13 184.62,206.68 184.80,210.66 184.98,215.29 185.16,219.21 185.20,220.05 185.34,222.12 185.52,225.74 185.70,224.32 185.88,228.20 186.06,230.37 186.24,233.07 186.42,234.35 186.60,239.79 186.60,237.88 186.78,239.10 186.96,240.97 187.14,240.91 187.32,241.37 187.50,242.39 187.68,243.52 187.86,244.21 188.04,245.36 188.22,246.10 188.40,245.89 188.50,247.86 188.58,249.74 188.76,248.07 188.94,247.10 189.12,250.05 189.30,248.91 189.48,249.39 189.66,249.48 189.84,251.95 190.02,251.26 190.20,251.00 190.38,251.70 190.56,252.30 190.74,252.67 190.80,253.41 190.92,254.91 191.10,250.77 191.28,253.63 191.46,253.46 191.64,251.58 191.82,254.64 192.00,252.97 192.18,252.05 192.36,250.09 192.54,251.03 192.70,251.12 192.72,250.90 192.90,248.19 193.08,248.32 193.26,246.38 193.44,244.61 193.62,243.40 193.80,241.29 193.98,240.53 194.16,237.35 194.30,238.64 194.34,236.74 194.52,232.84 194.70,228.62 194.88,224.56 195.06,220.27 195.24,216.67 195.42,211.68 195.50,210.42 195.60,205.67 195.78,198.55 195.96,189.92 196.14,181.77 196.32,174.49 196.50,166.19 196.68,158.68 196.70,157.73 196.86,164.48 197.04,172.42 197.22,180.38 197.40,188.48 197.58,196.31 197.76,203.90 197.90,210.01 197.94,212.50 198.12,222.73 198.30,233.80 198.30,233.56 198.48,234.47 198.66,236.52 198.84,238.16 199.02,239.51 199.20,239.74 199.38,241.15 199.56,243.32 199.70,244.74 199.74,244.85 199.92,245.61 200.10,245.46 200.28,246.96 200.46,245.83 200.64,246.00 200.82,245.22 201.00,248.56 201.18,247.26 201.36,249.82 201.40,248.03 201.54,245.41 201.72,245.58 201.90,244.31 202.08,243.75 202.26,240.75 202.44,241.39 202.60,240.47 202.62,239.83 202.80,236.33 202.98,233.93 203.16,229.77 203.34,227.40 203.52,223.32 203.70,221.14 203.70,221.50 203.88,217.50 204.06,213.58 204.24,209.62 204.42,205.43 204.60,201.76 204.78,197.69 204.90,195.11 204.96,197.15 205.14,203.45 205.32,208.47 205.50,214.92 205.68,220.09 205.86,225.73 206.04,231.56 206.10,233.53 206.22,235.48 206.40,239.54 206.58,241.93 206.76,245.33 206.94,248.91 207.12,252.00 207.30,254.95 207.30,254.73 207.48,256.01 207.66,255.96 207.84,256.06 208.02,257.80 208.20,256.06 208.38,256.20 208.56,257.28 208.74,257.40 208.92,260.62 209.10,258.68 209.28,260.09 209.46,259.31 209.60,259.12 209.64,260.59 209.82,260.66 210.00,258.07 210.18,260.02 210.36,259.48 210.54,258.44 210.72,259.04 210.90,259.95 211.08,258.60 211.26,259.77 211.44,259.73 211.62,259.81 211.80,258.93 211.98,260.85 212.00,260.35 212.16,260.46 212.34,260.39 212.52,259.91 212.70,261.00 212.88,260.37 213.06,262.32 213.24,260.77 213.42,260.18 213.50,261.42 213.60,261.04 213.78,263.50 213.96,261.29 214.14,263.24 214.32,259.66 214.50,261.36 214.68,262.31 214.86,263.63 215.04,263.53 215.22,263.40 215.40,263.63 215.58,264.97 215.76,263.46 215.94,265.09 216.12,264.22 216.30,265.02 216.48,265.55 216.66,264.57 216.84,263.92 217.00,264.72 217.02,263.90 217.20,262.80 217.38,263.82 217.56,263.92 217.74,263.15 217.92,265.28 218.10,264.75 218.28,263.43 218.46,263.40 218.64,262.10 218.82,263.02 219.00,260.39 219.18,259.47 219.36,260.54 219.54,261.92 219.72,262.86 219.90,259.99 220.08,262.24 220.26,262.68 220.44,263.54 220.60,262.75 220.62,262.01 220.80,261.02 220.98,262.27 221.16,262.82 221.34,262.73 221.52,261.76 221.70,260.43 221.88,259.47 222.06,258.80 222.24,259.93 222.42,260.26 222.60,258.97 222.78,259.91 222.96,259.06 223.14,259.93 223.32,259.04 223.50,259.43 223.68,258.05 223.86,258.48 224.04,259.38 224.10,257.22 224.22,259.07 224.40,257.12 224.58,260.05 224.76,255.16 224.94,254.83 225.12,254.47 225.30,253.60 225.48,252.92 225.66,252.99 225.84,250.60 226.00,251.03 226.02,250.51 226.20,248.46 226.38,245.89 226.56,242.13 226.74,239.27 226.90,237.14 226.92,237.11 227.10,232.05 227.28,227.64 227.46,223.14 227.64,217.78 227.80,213.51 227.82,212.14 228.00,202.86 228.18,193.11 228.36,183.72 228.54,174.03 228.72,164.71 228.80,160.03 228.90,149.83 229.08,131.65 229.26,113.45 229.30,109.40 229.44,119.80 229.62,132.57 229.80,145.48 229.98,158.47 230.00,160.01 230.16,174.71 230.34,191.66 230.52,208.61 230.70,225.40 230.70,225.21 230.88,228.78 231.06,232.13 231.24,235.85 231.42,239.28 231.60,242.95 231.60,243.06 231.78,239.54 231.96,235.31 232.14,231.85 232.32,228.89 232.50,226.26 232.50,225.22 232.68,211.81 232.86,198.06 233.04,184.50 233.22,171.50 233.40,157.70 233.50,149.98 233.58,156.81 233.76,171.77 233.94,186.87 234.12,201.83 234.30,216.89 234.40,225.31 234.48,227.39 234.66,232.68 234.84,238.30 235.02,241.98 235.20,247.56 235.38,252.74 235.40,253.41 235.56,251.48 235.74,250.44 235.92,246.86 236.10,245.00 236.28,242.26 236.46,240.57 236.64,239.03 236.80,236.87 236.82,236.52 237.00,227.83 237.18,218.93 237.36,211.03 237.54,202.18 237.72,194.06 237.90,185.49 238.08,177.04 238.26,168.86 238.44,160.72 238.62,151.69 238.70,148.11 238.80,154.05 238.98,164.80 239.16,174.71 239.34,185.36 239.52,195.52 239.60,200.02 239.70,209.39 239.88,225.85 240.00,237.02 240.06,237.78 240.24,243.21 240.42,249.28 240.60,251.84 240.78,256.56 240.96,261.71 241.00,262.96 241.14,263.27 241.32,265.77 241.50,264.65 241.68,268.57 241.86,266.24 242.04,268.24 242.22,268.43 242.40,270.37 242.58,268.87 242.76,271.26 242.90,272.68 242.94,273.12 243.12,272.70 243.30,272.78 243.48,275.15 243.66,272.86 243.84,273.15 244.02,272.55 244.20,274.92 244.38,276.28 244.56,273.98 244.74,275.98 244.92,276.30 245.10,275.17 245.20,275.82 245.28,276.26 245.46,274.43 245.64,278.33 245.82,275.44 246.00,275.76 246.18,277.43 246.36,277.10 246.54,278.00 246.72,277.74 246.90,276.19 247.08,277.68 247.26,280.62 247.44,277.69 247.62,277.44 247.80,279.78 247.98,277.21 248.16,278.72 248.34,282.99 248.52,280.30 248.70,278.35 248.70,278.84 248.88,279.61 249.06,280.21 249.24,280.91 249.42,279.46 249.60,280.26 249.78,280.47 249.96,280.30 250.14,281.27 250.32,281.11 250.50,281.10 250.68,282.15 250.86,281.24 251.04,282.07 251.22,282.80 251.40,282.02 251.58,280.28 251.76,277.96 251.94,283.84 252.12,284.17 252.30,284.04 252.30,282.20 252.48,283.25 252.66,285.98 252.84,284.18 253.02,284.10 253.20,286.86 253.38,286.88 253.56,283.94 253.74,285.16 253.92,285.66 254.10,285.92 254.28,286.50 254.46,285.67 254.64,283.36 254.82,284.71 255.00,284.39 255.18,285.53 255.36,285.41 255.54,287.97 255.72,284.83 255.80,284.76 255.90,282.83 256.08,284.41 256.26,286.46 256.44,285.20 256.62,284.26 256.80,284.90 256.98,284.95 257.16,284.14 257.34,281.46 257.52,284.75 257.70,284.36 257.88,282.50 258.06,284.03 258.20,283.65 258.24,283.81 258.42,284.59 258.60,284.32 258.78,283.84 258.96,284.93 259.14,283.77 259.32,284.73 259.50,283.99 259.68,284.69 259.86,284.60 260.04,284.68 260.22,285.52 260.40,285.37 260.58,287.36 260.76,283.94 260.94,287.68 261.12,285.12 261.30,283.82 261.30,284.43 261.48,284.61 261.66,285.41 261.84,286.02 262.02,287.26 262.20,287.30 262.38,288.22 262.56,288.13 262.74,288.47 262.92,290.51 263.10,288.61 263.28,287.40 263.46,288.74 263.50,289.10 263.64,288.93 263.82,287.87 264.00,289.44 264.18,287.18 264.36,287.30 264.54,286.19 264.72,288.14 264.90,287.61 265.08,287.86 265.26,285.08 265.44,285.11 265.60,285.54 265.62,286.29 265.80,283.64 265.98,284.56 266.16,282.61 266.34,284.99 266.52,284.75 266.70,285.28 266.88,284.06 267.06,282.77 267.24,282.40 267.42,282.62 267.60,281.93 267.70,282.47 267.78,281.23 267.96,279.87 268.14,280.35 268.32,276.89 268.50,275.65 268.68,273.52 268.86,274.41 269.04,272.03 269.22,270.63 269.40,270.25 269.40,269.56 269.58,266.57 269.76,264.01 269.94,262.93 270.12,261.02 270.20,258.76 270.30,258.59 270.48,255.05 270.66,255.79 270.84,253.48 271.02,252.58 271.20,250.84 271.38,251.00 271.50,250.22 271.56,250.18 271.74,251.24 271.92,249.97 272.10,251.27 272.28,251.63 272.46,252.93 272.64,254.04 272.82,253.12 273.00,255.60 273.00,254.32 273.18,255.39 273.36,257.02 273.54,259.33 273.72,258.08 273.90,261.72 274.00,262.66 274.08,262.30 274.26,261.78 274.44,260.32 274.62,260.52 274.80,263.52 274.98,261.23 275.16,262.47 275.34,262.78 275.52,260.76 275.70,261.91 275.88,260.17 276.06,259.79 276.20,260.86 276.24,259.89 276.42,259.63 276.60,260.05 276.78,259.81 276.96,261.92 277.14,261.10 277.32,260.14 277.50,260.82 277.68,258.81 277.80,258.71 277.86,258.78 278.04,258.76 278.22,255.87 278.40,256.39 278.58,256.52 278.76,255.26 278.94,255.40 279.12,254.17 279.30,254.44 279.30,254.49 279.48,254.56 279.66,254.86 279.84,253.23 280.02,253.08 280.20,253.97 280.38,249.92 280.40,252.37 280.56,252.57 280.74,252.37 280.92,256.61 281.10,257.06 281.28,257.91 281.40,258.87 281.46,260.52 281.64,260.10 281.82,260.91 282.00,257.85 282.18,264.29 282.36,264.39 282.50,264.51 282.54,264.46 282.72,264.12 282.90,266.80 283.08,264.59 283.26,264.11 283.44,266.73 283.62,265.14 283.80,264.63 283.98,264.25 284.16,265.28 284.34,266.24 284.52,265.97 284.60,267.07 284.70,268.05 284.88,266.29 285.06,265.57 285.24,268.61 285.42,268.76 285.60,269.92 285.78,268.14 285.96,270.13 286.14,269.68 286.32,269.82 286.50,270.84 286.68,272.48 286.70,271.63 286.86,273.03 287.04,272.29 287.22,273.35 287.40,273.23 287.58,273.96 287.76,275.95 287.94,274.52 288.12,277.47 288.30,278.60 288.48,277.09 288.66,277.84 288.80,278.49 288.84,278.37 289.02,278.15 289.20,277.64 289.38,274.96 289.56,276.99 289.74,276.30 289.92,275.23 290.10,273.29 290.28,274.62 290.46,274.63 290.64,273.93 290.82,273.99 291.00,273.34 291.00,273.63 291.18,274.83 291.36,270.10 291.54,272.76 291.72,273.00 291.90,269.52 292.08,271.50 292.26,272.00 292.44,271.25 292.62,270.34 292.80,269.91 292.98,267.74 293.10,269.32 293.16,269.94 293.34,269.02 293.52,267.77 293.70,266.48 293.88,265.10 294.06,264.26 294.24,262.97 294.42,262.48 294.60,258.95 294.78,260.83 294.96,260.51 295.14,258.78 295.20,258.91 295.32,256.89 295.50,254.42 295.68,253.27 295.86,247.87 296.04,245.66 296.22,242.53 296.30,241.55 296.40,241.04 296.58,236.58 296.76,237.14 296.94,236.03 297.12,233.16 297.30,231.56 297.30,231.03 297.48,232.76 297.66,233.76 297.84,234.36 298.02,236.29 298.20,236.16 298.38,237.19 298.40,236.76 298.56,239.56 298.74,241.05 298.92,243.60 299.10,245.52 299.28,247.14 299.46,249.82 299.64,252.97 299.80,254.30 299.82,252.79 300.00,254.58 300.18,256.38 300.36,253.73 300.54,252.25 300.72,257.90 300.90,258.01 301.08,259.05 301.10,258.58 301.26,256.93 301.44,254.24 301.62,252.12 301.80,250.83 301.98,249.31 302.16,246.74 302.34,242.97 302.52,240.17 302.60,241.83 302.70,241.69 302.88,241.77 303.06,242.48 303.24,244.93 303.42,244.04 303.60,243.63 303.78,244.36 303.96,244.08 304.10,246.47 304.14,246.22 304.32,247.10 304.50,246.65 304.68,248.58 304.86,250.50 305.04,251.51 305.22,251.58 305.40,252.18 305.58,255.10 305.76,254.04 305.80,254.31 305.94,254.08 306.12,255.55 306.30,257.00 306.48,256.78 306.66,258.11 306.84,257.62 307.02,258.86 307.20,258.37 307.38,259.62 307.56,259.89 307.74,260.46 307.80,261.37 307.92,260.49 308.10,261.43 308.28,261.41 308.46,263.13 308.64,261.64 308.82,262.27 309.00,263.29 309.18,262.75 309.36,263.98 309.54,266.33 309.70,264.65 309.72,264.19 309.90,262.35 310.08,265.96 310.26,265.64 310.44,266.62 310.62,266.36 310.80,267.86 310.98,268.15 311.16,271.91 311.34,271.05 311.52,270.09 311.60,270.35 311.70,270.24 311.88,271.31 312.06,272.53 312.24,273.56 312.42,274.12 312.60,274.21 312.78,274.10 312.96,274.82 313.14,274.78 313.32,275.89 313.40,276.17 313.50,276.73 313.68,276.03 313.86,277.62 314.04,279.90 314.22,280.55 314.40,281.08 314.40,282.39 314.58,278.37 314.76,282.55 314.94,281.51 315.12,274.08 315.30,281.02 315.48,280.04 315.66,278.63 315.84,279.44 315.90,280.23 316.02,277.90 316.20,279.59 316.38,279.49 316.56,282.11 316.74,280.68 316.92,281.16 317.10,281.75 317.20,283.96 317.28,282.59 317.46,284.40 317.64,280.04 317.82,281.14 318.00,279.59 318.18,279.13 318.36,278.42 318.50,278.32 318.54,277.79 318.72,277.03 318.90,276.94 319.08,275.23 319.26,271.32 319.44,272.56 319.60,271.81 319.62,271.83 319.80,271.51 319.98,272.24 320.16,273.75 320.34,274.77 320.52,275.17 320.70,275.27 320.88,275.53 321.00,276.33 321.06,277.97 321.24,276.55 321.42,277.28 321.60,278.20 321.78,280.22 321.96,278.91 322.14,281.34 322.30,282.03 322.32,282.37 322.50,282.57 322.68,283.77 322.86,282.60 323.04,282.30 323.22,284.13 323.40,282.86 323.58,282.57 323.76,281.19 323.80,284.48 323.94,284.11 324.12,283.88 324.30,282.01 324.48,284.36 324.66,281.38 324.84,283.52 325.02,283.96 325.20,282.80 325.38,281.94 325.56,285.39 325.60,282.19 325.74,282.31 325.92,283.18 326.10,283.38 326.28,282.34 326.46,282.73 326.64,283.19 326.82,286.25 327.00,287.30 327.18,282.20 327.36,284.80 327.50,283.75 327.54,283.26 327.72,283.51 327.90,281.58 328.08,283.91 328.26,283.68 328.44,282.54 328.62,280.60 328.80,283.47 328.98,285.49 329.16,281.53 329.34,285.55 329.40,282.24 329.52,282.21 329.70,283.73 329.88,284.07 330.06,283.43 330.24,284.12 330.42,283.53 330.60,284.65 330.78,283.94 330.96,284.64 331.14,285.88 331.30,285.10 331.32,285.30 331.50,285.04 331.68,283.40 331.86,281.99 332.04,281.07 332.22,278.89 332.40,277.14 332.58,277.16 332.76,277.04 332.80,276.96 332.94,274.58 333.12,275.02 333.30,272.19 333.48,269.40 333.66,268.38 333.70,267.82 333.84,269.17 334.02,269.37 334.20,270.35 334.38,271.49 334.56,271.93 334.70,272.89 334.74,273.32 334.92,272.35 335.10,274.71 335.28,275.30 335.46,277.52 335.64,278.53 335.82,276.16 336.00,278.81 336.00,278.26 336.18,278.31 336.36,277.10 336.54,279.80 336.72,278.85 336.90,278.96 337.08,281.04 337.26,277.79 337.44,278.92 337.62,277.08 337.80,279.09 337.90,281.42 337.98,279.60 338.16,280.88 338.34,281.25 338.52,280.29 338.70,281.28 338.88,279.67 339.06,278.86 339.24,279.80 339.42,279.22 339.60,279.31 339.70,280.34 339.78,279.29 339.96,279.92 340.14,281.48 340.32,281.28 340.50,285.37 340.68,282.53 340.86,284.31 341.04,283.45 341.22,284.61 341.40,285.44 341.58,283.80 341.60,283.70 341.76,283.02 341.94,286.99 342.12,284.72 342.30,288.28 342.48,286.51 342.66,287.19 342.84,284.64 343.02,288.43 343.20,285.88 343.38,288.33 343.50,286.94 343.56,289.31 343.74,285.39 343.92,285.81 344.10,286.23 344.28,285.09 344.46,284.30 344.64,284.82 344.82,282.99 345.00,284.46 345.18,284.47 345.36,283.62 345.40,283.77 345.54,283.08 345.72,283.76 345.90,284.23 346.08,285.89 346.26,284.30 346.44,287.36 346.62,284.32 346.80,284.81 346.98,285.26 347.16,283.47 347.20,285.14 347.34,285.97 347.52,283.72 347.70,285.41 347.88,284.89 348.06,284.22 348.24,284.42 348.42,284.07 348.60,287.07 348.78,286.36 348.96,286.08 349.14,284.68 349.32,286.16 349.50,285.08 349.68,285.70 349.86,282.87 350.00,286.20 350.04,285.48 350.22,286.17 350.40,284.36 350.58,284.77 350.76,286.22 350.94,285.95 351.12,285.62 351.30,285.07 351.48,285.44 351.66,286.62 351.84,286.01 352.02,285.80 352.20,284.87 352.38,284.78 352.56,286.27 352.74,284.23 352.90,284.78 352.92,283.89 353.10,284.04 353.28,283.11 353.46,284.45 353.64,284.20 353.82,282.19 354.00,282.73 354.18,282.32 354.20,282.15 354.36,279.78 354.54,276.65 354.72,274.66 354.90,271.79 355.08,269.60 355.26,266.21 355.30,266.46 355.44,265.37 355.62,262.00 355.80,259.43 355.98,256.99 356.16,253.13 356.34,251.89 356.52,249.42 356.60,247.86 356.70,247.54 356.88,245.21 357.06,243.35 357.24,241.23 357.30,240.29 357.42,242.62 357.60,245.74 357.78,249.55 357.96,252.41 358.14,256.27 358.30,257.94 358.32,258.87 358.50,261.65 358.68,264.37 358.86,267.58 359.04,269.88 359.22,273.50 359.40,275.94 359.40,276.12 359.58,277.05 359.76,276.65 359.94,279.77 360.12,277.22 360.30,279.97 360.48,281.47 360.66,280.63 360.84,280.38 361.02,281.69 361.20,281.83 361.20,282.25 361.38,282.12 361.56,280.37 361.74,281.78 361.92,280.01 362.10,281.70 362.28,280.24 362.46,281.51 362.64,282.25 362.82,278.65 362.90,281.26 363.00,279.33 363.18,280.19 363.36,279.91 363.54,276.94 363.72,278.93 363.90,279.28 364.08,278.47 364.26,277.07 364.44,277.68 364.62,274.92 364.70,277.46 364.80,277.07 364.98,275.83 365.16,276.28 365.34,274.68 365.52,275.87 365.70,275.68 365.88,275.18 366.06,274.48 366.24,273.73 366.42,274.14 366.50,272.41 366.60,270.94 366.78,271.24 366.96,272.32 367.14,269.50 367.32,268.63 367.50,267.15 367.68,266.60 367.70,265.92 367.86,264.67 368.04,261.51 368.22,260.65 368.40,258.82 368.58,256.26 368.70,254.68 368.76,256.38 368.94,255.43 369.12,258.53 369.30,260.27 369.48,261.94 369.66,262.42 369.84,263.03 370.00,265.76 370.02,265.46 370.20,266.61 370.38,267.37 370.56,268.42 370.74,267.84 370.92,269.19 371.10,271.98 371.20,272.10 371.28,271.45 371.46,271.41 371.64,270.65 371.82,268.65 372.00,270.20 372.18,269.82 372.36,269.11 372.54,269.21 372.60,269.81 372.72,267.99 372.90,270.30 373.08,270.46 373.26,271.79 373.44,271.67 373.62,272.87 373.80,273.51 373.98,273.30 374.00,274.17 374.16,274.92 374.34,275.72 374.52,277.55 374.70,277.13 374.88,277.68 375.06,280.58 375.24,281.11 375.30,279.48 375.42,279.16 375.60,281.26 375.78,279.34 375.96,280.70 376.14,279.22 376.32,279.46 376.50,280.09 376.68,280.80 376.86,280.74 377.00,281.14 377.04,279.86 377.22,279.36 377.40,281.90 377.58,281.08 377.76,280.73 377.94,280.02 378.12,279.65 378.30,279.07 378.48,279.21 378.66,278.37 378.80,278.22 378.84,277.39 379.02,276.15 379.20,275.05 379.38,273.12 379.56,271.82 379.74,270.19 379.92,268.12 380.00,267.36 380.10,265.52 380.28,264.78 380.46,264.37 380.64,260.48 380.82,260.73 381.00,258.68 381.10,256.97 381.18,255.97 381.36,256.26 381.54,256.26 381.72,252.98 381.80,252.14 381.90,253.18 382.08,255.56 382.26,257.64 382.44,259.18 382.62,261.79 382.80,264.16 382.90,265.59 382.98,268.37 383.16,265.33 383.34,270.06 383.52,271.55 383.70,273.94 383.88,273.82 384.06,275.26 384.10,275.85 384.24,275.73 384.42,276.25 384.60,276.87 384.78,277.83 384.96,277.06 385.14,278.16 385.32,279.59 385.50,278.14 385.68,281.72 385.80,281.47 385.86,280.38 386.04,279.43 386.22,278.84 386.40,276.01 386.58,273.55 386.76,272.24 386.94,270.67 387.10,269.13 387.12,268.54 387.30,266.10 387.48,264.10 387.66,260.84 387.84,260.36 388.02,257.73 388.10,256.67 388.20,255.81 388.38,255.87 388.56,251.56 388.74,252.71 388.80,251.24 388.92,252.47 389.10,254.14 389.28,255.72 389.46,257.54 389.64,259.53 389.82,260.96 389.90,261.88 390.00,261.05 390.18,265.11 390.36,267.46 390.54,268.50 390.72,270.60 390.90,274.48 391.08,274.00 391.10,275.89 391.26,276.70 391.44,277.99 391.62,278.72 391.80,279.32 391.98,279.86 392.16,280.61 392.34,279.76 392.40,281.67 392.52,282.02 392.70,283.38 392.88,279.02 393.06,278.44 393.24,277.11 393.42,276.99 393.60,276.05 393.78,274.04 393.80,274.28 393.96,273.68 394.14,270.91 394.32,268.31 394.50,266.68 394.68,264.82 394.80,263.81 394.86,263.44 395.04,261.47 395.22,258.35 395.40,256.31 395.50,256.53 395.58,257.06 395.76,257.22 395.94,259.67 396.12,261.70 396.30,263.02 396.48,264.82 396.60,265.41 396.66,265.85 396.84,268.14 397.02,270.40 397.20,271.89 397.38,274.65 397.56,276.28 397.70,278.86 397.74,278.06 397.92,280.37 398.10,282.11 398.28,283.23 398.46,284.34 398.64,286.35 398.82,285.60 399.00,288.08 399.10,289.39 399.18,289.07 399.36,288.31 399.54,287.59 399.72,287.33 399.90,284.64 400.08,287.25 400.26,284.12 400.44,286.43 400.62,283.43 400.80,284.05 400.80,284.88 400.98,282.61 401.16,281.13 401.34,283.23 401.52,281.56 401.70,279.34 401.88,278.32 402.06,276.09 402.20,275.60 402.24,275.30 402.42,274.54 402.60,273.85 402.78,272.18 402.96,270.90 403.00,270.39 403.14,271.19 403.32,273.05 403.50,274.06 403.68,275.61 403.86,277.18 404.00,277.84 404.04,279.67 404.22,280.35 404.40,283.54 404.58,283.99 404.76,285.93 404.94,289.50 405.12,289.38 405.20,290.35 405.30,291.27 405.48,290.19 405.66,290.80 405.84,291.06 406.02,290.44 406.20,291.44 406.38,291.69 406.50,292.28 406.56,293.84 406.74,288.30 406.92,290.42 407.10,289.53 407.28,288.00 407.46,288.14 407.64,286.43 407.82,284.45 408.00,283.32 408.00,284.54 408.18,287.46 408.36,286.02 408.54,288.35 408.72,286.34 408.90,286.77 409.08,288.80 409.10,287.58 409.26,288.37 409.44,288.25 409.62,287.99 409.80,288.76 409.98,288.76 410.16,291.41 410.34,289.92 410.52,289.28 410.70,288.67 410.70,289.26 410.88,287.72 411.06,288.67 411.24,286.72 411.42,284.95 411.60,285.44 411.78,284.43 411.96,284.76 412.14,284.76 412.32,281.30 412.40,280.72 412.50,279.52 412.68,277.37 412.86,277.74 413.04,278.01 413.22,271.41 413.40,275.56 413.58,274.95 413.76,273.08 413.94,272.92 414.00,272.76 414.12,272.98 414.30,271.49 414.48,274.55 414.66,274.03 414.84,274.11 415.02,277.46 415.20,278.16 415.20,278.03 415.38,277.53 415.56,279.37 415.74,280.23 415.92,281.74 416.10,282.32 416.28,284.37 416.46,286.10 416.50,286.42 416.64,287.04 416.82,287.13 417.00,287.70 417.18,288.47 417.36,289.70 417.54,290.61 417.72,290.87 417.90,292.06 418.08,291.76 418.10,292.11 418.26,293.81 418.44,292.69 418.62,294.88 418.80,295.91 418.98,293.84 419.16,294.39 419.34,295.39 419.52,295.16 419.70,294.22 419.80,295.92 419.88,294.98 420.06,296.38 420.24,295.45 420.42,296.73 420.60,297.41 420.78,295.41 420.96,298.46 421.14,297.22 421.32,297.15 421.50,297.20 421.68,296.37 421.86,295.17 422.04,297.41 422.22,296.79 422.40,298.39 422.58,296.38 422.76,297.74 422.94,297.72 423.00,296.98 423.12,297.39 423.30,296.73 423.48,299.40 423.66,296.90 423.84,297.00 424.02,298.68 424.20,299.31 424.38,297.62 424.56,295.14 424.74,298.00 424.92,299.23 425.10,300.08 425.28,297.62 425.46,299.18 425.64,299.05 425.82,299.66 426.00,299.61 426.18,299.10 426.30,298.46 426.36,298.75 426.54,299.37 426.72,298.40 426.90,299.19 427.08,297.50 427.26,298.63 427.44,296.34 427.62,297.27 427.80,297.37 427.98,297.18 428.16,298.06 428.34,297.92 428.52,300.22 428.70,299.00 428.88,296.75 429.06,297.90 429.24,299.66 429.42,299.04 429.60,298.32 429.60,297.82 429.78,298.45 429.96,298.41 430.14,298.30 430.32,301.25 430.50,299.88 430.68,299.75 430.86,299.27 431.04,300.23 431.22,300.56 431.40,299.48 431.58,299.17 431.76,298.89 431.94,299.57 432.12,298.76 432.30,298.70 432.48,300.53 432.66,298.46 432.84,299.33 433.02,301.32 433.20,300.42 433.38,300.25 433.50,299.49 433.56,298.37 433.74,298.13 433.92,298.98 434.10,299.00 434.28,298.39 434.46,298.27 434.64,301.62 434.82,302.11 435.00,300.00 435.18,300.07 435.36,298.99 435.54,299.25 435.72,299.03 435.90,299.63 436.08,298.49 436.26,298.57 436.44,297.83 436.62,299.34 436.80,301.02 436.98,299.21 437.00,298.99 437.16,298.16 437.34,298.90 437.52,298.63 437.70,298.16 437.88,293.46 438.06,296.88 438.24,297.27 438.42,297.96 438.60,298.17 438.78,298.24 438.96,298.16 439.14,296.48 439.32,298.07 439.50,296.23 439.60,297.34 439.68,296.41 439.86,296.38 440.04,296.51 440.22,296.95 440.40,295.52 440.58,295.54 440.76,296.25 440.94,295.76 441.12,298.50 441.30,293.43 441.48,293.91 441.66,295.05 441.84,293.76 442.02,295.16 442.20,294.36 442.38,294.22 442.56,294.15 442.74,294.03 442.92,293.38 443.10,292.70 443.28,293.38 443.40,292.66 443.46,292.48 443.64,292.54 443.82,291.61 444.00,291.78 444.18,291.43 444.36,290.98 444.54,290.22 444.72,289.29 444.90,289.08 445.08,289.08 445.20,288.50 445.26,289.12 445.44,288.02 445.62,287.63 445.80,284.75 445.98,285.98 446.16,287.22 446.34,285.42 446.52,284.87 446.70,284.94 446.88,283.07 446.90,282.29 447.06,283.41 447.24,282.64 447.42,282.21 447.60,280.71 447.78,281.03 447.96,282.06 448.14,282.99 448.32,278.90 448.50,280.66 448.50,280.13 448.68,280.16 448.86,278.88 449.04,280.47 449.22,278.45 449.40,278.51 449.58,277.72 449.76,277.81 449.94,277.43 450.12,276.35 450.20,275.38 450.30,272.36 450.48,275.48 450.66,276.22 450.84,275.30 451.02,274.80 451.20,272.54 451.38,273.69 451.56,273.74 451.74,273.70 451.80,273.06 451.92,272.86 452.10,273.72 452.28,270.92 452.46,273.29 452.64,273.80 452.82,274.59 453.00,275.58 453.18,274.31 453.36,274.38 453.40,274.31 453.54,273.71 453.72,273.16 453.90,274.75 454.08,272.78 454.26,272.29 454.44,273.51 454.62,272.49 454.80,272.12 454.98,273.60 455.10,271.45 455.16,270.57 455.34,272.26 455.52,270.00 455.70,273.69 455.88,274.67 456.06,272.09 456.24,273.80 456.42,272.68 456.60,272.86 456.70,272.76 456.78,274.21 456.96,274.21 457.14,276.76 457.32,276.63 457.50,277.70 457.68,282.09 457.70,279.32 457.86,278.68 458.04,280.23 458.22,282.13 458.40,281.79 458.58,281.57 458.76,278.82 458.94,280.29 459.12,282.94 459.30,283.28 459.48,285.49 459.66,283.00 459.84,283.72 460.02,283.45 460.20,282.88 460.38,284.96 460.50,285.20 460.56,283.27 460.74,285.37 460.92,286.54 461.10,286.41 461.28,285.67 461.46,283.10 461.64,285.95 461.82,285.79 462.00,286.88 462.18,287.41 462.36,287.66 462.54,286.94 462.72,287.89 462.90,287.84 463.08,289.73 463.26,289.71 463.44,291.00 463.62,289.31 463.80,290.46 463.98,289.10 464.00,289.88 464.16,289.74 464.34,289.59 464.52,289.25 464.70,291.70 464.88,290.04 465.06,290.71 465.24,289.51 465.42,290.86 465.60,290.92 465.78,292.04 465.96,290.10 466.14,292.73 466.30,291.23 466.32,289.83 466.50,290.26 466.68,289.86 466.86,294.16 467.04,289.78 467.22,288.11 467.40,288.74 467.58,288.97 467.76,286.35 467.94,288.32 468.12,287.83 468.30,287.70 468.48,285.91 468.60,286.97 468.66,286.58 468.84,287.39 469.02,286.76 469.20,285.51 469.38,286.17 469.56,288.39 469.74,289.88 469.92,289.18 470.10,287.25 470.10,287.89 470.28,292.23 470.46,289.24 470.64,290.80 470.82,290.24 471.00,290.26 471.18,290.82 471.36,289.74 471.54,289.69 471.72,288.31 471.90,293.24 472.08,288.98 472.26,291.72 472.44,289.06 472.62,291.01 472.80,292.14 472.90,290.82 472.98,291.28 473.16,291.46 473.34,290.30 473.52,294.07 473.70,292.56 473.88,294.25 474.06,293.80 474.24,292.41 474.42,293.95 474.60,293.70 474.78,293.24 474.96,294.40 475.14,297.05 475.32,292.62 475.50,295.47 475.60,294.92 475.68,295.45 475.86,296.02 476.04,295.01 476.22,293.97 476.40,295.13 476.58,296.07 476.76,296.71 476.94,296.42 477.12,297.31 477.30,296.06 477.48,295.38 477.66,296.86 477.84,297.23 478.02,296.85 478.20,295.07 478.38,296.93 478.40,297.52 478.56,296.41 478.74,297.32 478.92,295.46 479.10,296.22 479.28,295.42 479.46,294.18 479.64,294.72 479.82,293.94 480.00,294.93 480.18,295.68 480.36,295.07 480.54,294.53 480.72,292.04 480.90,294.13 481.08,294.38 481.10,294.37 481.26,293.57 481.44,293.45 481.62,293.47 481.80,291.87 481.98,293.35 482.16,292.64 482.34,293.25 482.52,291.41 482.70,292.68 482.88,291.73 483.06,293.73 483.24,294.91 483.42,293.58 483.60,292.82 483.78,292.85 483.80,293.44 483.96,292.24 484.14,290.20 484.32,293.62 484.50,292.41 484.68,292.75 484.86,292.02 485.04,291.38 485.22,289.49 485.40,291.70 485.58,291.33 485.76,287.66 485.80,290.47 485.94,293.00 486.12,292.09 486.30,291.36 486.48,292.11 486.66,292.98 486.84,293.94 487.02,292.26 487.20,294.02 487.38,294.14 487.56,294.81 487.74,293.48 487.92,294.92 488.00,295.05 488.10,294.91 488.28,295.66 488.46,295.50 488.64,295.81 488.82,296.87 489.00,296.63 489.18,294.70 489.36,296.51 489.54,294.07 489.72,295.94 489.90,296.97 490.08,297.15 490.26,299.72 490.44,295.95 490.62,296.52 490.70,296.36 490.80,297.00 490.98,297.30 491.16,295.48 491.34,294.72 491.52,294.91 491.70,296.00 491.88,293.37 492.06,294.39 492.24,295.80 492.42,296.89 492.60,294.43 492.78,295.18 492.96,294.11 493.14,293.65 493.32,294.18 493.50,292.74 493.50,294.55 493.68,294.12 493.86,295.46 494.04,294.36 494.22,292.16 494.40,292.45 494.58,290.47 494.76,290.14 494.94,294.96 495.12,290.49 495.30,290.72 495.48,291.19 495.66,289.80 495.84,290.07 496.02,288.83 496.20,290.56 496.20,290.37 496.38,288.65 496.56,288.42 496.74,288.33 496.92,287.50 497.10,286.67 497.28,286.06 497.46,285.60 497.60,285.25 497.64,285.40 497.82,286.57 498.00,286.55 498.18,286.18 498.36,286.45 498.54,288.22 498.72,291.19 498.90,289.36 499.00,289.38" fill="none" stroke="#00f" stroke-width="0.9" stroke-linejoin="round"/>
<line x1="48.6" y1="373.6" x2="498.8" y2="373.6" stroke="#000" stroke-width="1.4"/>
<g font-size="16" text-anchor="middle">
<text x="49.0" y="393.6" font-size="16.4">10</text>
<text x="138.7" y="393.6" font-size="16.4">20</text>
<text x="228.7" y="393.6" font-size="16.4">30</text>
<text x="318.4" y="393.6" font-size="16.4">40</text>
<text x="408.4" y="393.6" font-size="16.4">50</text>
<text x="498.4" y="393.6" font-size="16.4">60</text>
<text x="280.2" y="423" font-size="19">2θ CuKα</text>
<text x="66.5" y="17">Ct</text>
<text x="149.8" y="15.6">Gt</text>
<text x="175.7" y="15.6">Ct</text>
<text x="194" y="15.5">Il</text>
<text x="257.2" y="15.6">Gt</text>
<text x="301.8" y="15.4">Ct</text>
<text x="450.3" y="15.4">Hm</text>
</g>
<text font-size="19.6" text-anchor="middle" transform="translate(19.4,234.3) rotate(-90)">Intensity (a.u.)</text>
<text font-size="15" text-anchor="middle" transform="translate(146.5,79.7) rotate(-90)">Il-Mt</text>
<text font-size="15" text-anchor="middle" transform="translate(284.2,62.9) rotate(-90)">Il-Mt</text>
<rect x="464.5" y="62.5" width="79" height="65" fill="#fff" stroke="#444" stroke-width="1"/>
<line x1="472" y1="75.5" x2="510.5" y2="75.5" stroke="#444"/>
<line x1="472" y1="96.5" x2="510.5" y2="96.5" stroke="#f44"/>
<line x1="472" y1="117.5" x2="510.5" y2="117.5" stroke="#44f"/>
<g font-size="16" style="font-kerning:none">
<text x="515.5" y="81.1">CX</text>
<text x="515.5" y="102.1">LV</text>
<text x="515.5" y="123.1">RQ</text>
</g>
</svg>
</body></html>
